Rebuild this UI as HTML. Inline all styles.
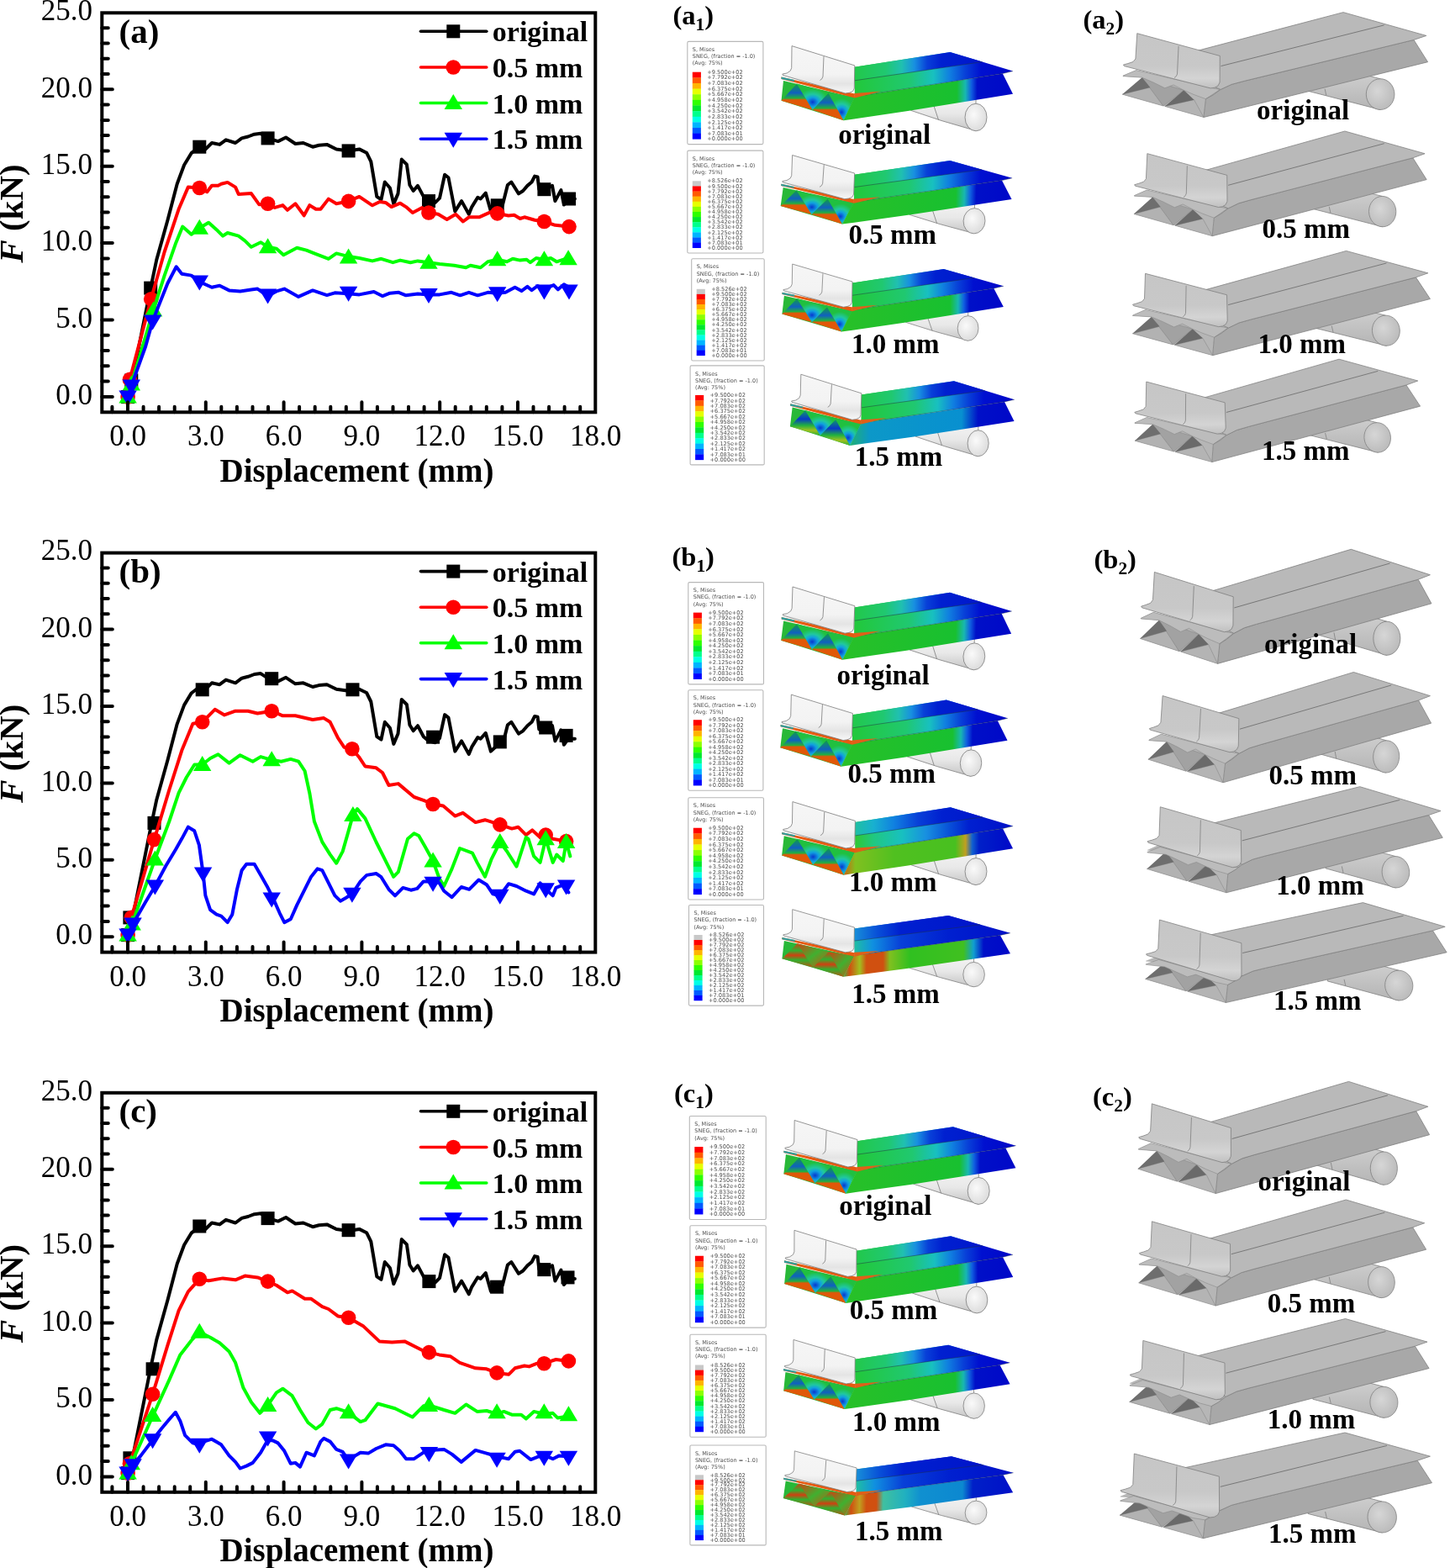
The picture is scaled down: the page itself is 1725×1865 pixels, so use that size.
<!DOCTYPE html>
<html><head><meta charset="utf-8"><title>Figure</title>
<style>html,body{margin:0;padding:0;background:#fff;} svg{display:block;}</style>
</head><body>
<svg width="1725" height="1865" viewBox="0 0 1725 1865">
<rect width="1725" height="1865" fill="#fff"/>

<defs>
 <linearGradient id="gTop" gradientUnits="userSpaceOnUse" x1="1016" y1="0" x2="1205" y2="0">
  <stop offset="0" stop-color="#22c83a"/>
  <stop offset="0.35" stop-color="#20c870"/>
  <stop offset="0.5" stop-color="#18c0c0"/>
  <stop offset="0.6" stop-color="#1080e0"/>
  <stop offset="0.7" stop-color="#0840d8"/>
  <stop offset="0.8" stop-color="#0010d0"/>
  <stop offset="1" stop-color="#0008c8"/>
 </linearGradient>
 <linearGradient id="gFront" gradientUnits="userSpaceOnUse" x1="1003" y1="0" x2="1205" y2="0">
  <stop offset="0" stop-color="#28c028"/>
  <stop offset="0.67" stop-color="#18c030"/>
  <stop offset="0.72" stop-color="#18b8b0"/>
  <stop offset="0.755" stop-color="#1060e0"/>
  <stop offset="0.79" stop-color="#0010c8"/>
  <stop offset="1" stop-color="#0008c8"/>
 </linearGradient>
 <linearGradient id="gTri" x1="0" y1="0" x2="0" y2="1">
  <stop offset="0" stop-color="#10a040"/>
  <stop offset="0.35" stop-color="#1060c0"/>
  <stop offset="0.55" stop-color="#20b040"/>
  <stop offset="0.62" stop-color="#e05808"/>
  <stop offset="1" stop-color="#e05808"/>
 </linearGradient>
 <radialGradient id="gSpot" cx="0.5" cy="0.7" r="0.5">
  <stop offset="0" stop-color="#0838d0"/>
  <stop offset="0.35" stop-color="#10a0e0"/>
  <stop offset="0.6" stop-color="#20c8a0"/>
  <stop offset="1" stop-color="#20c040"/>
 </radialGradient>
 <linearGradient id="gInd" x1="0" y1="0" x2="0" y2="1">
  <stop offset="0" stop-color="#f6f6f6"/>
  <stop offset="0.6" stop-color="#f3f3f3"/>
  <stop offset="0.8" stop-color="#e4e4e4"/>
  <stop offset="1" stop-color="#f8f8f8"/>
 </linearGradient>
 <linearGradient id="gCyl" x1="0" y1="0" x2="0" y2="1">
  <stop offset="0" stop-color="#f4f4f4"/>
  <stop offset="0.5" stop-color="#e8e8e8"/>
  <stop offset="1" stop-color="#c4c4c4"/>
 </linearGradient>
 <radialGradient id="gCap" cx="0.4" cy="0.4" r="0.7">
  <stop offset="0" stop-color="#fafafa"/>
  <stop offset="1" stop-color="#d8d8d8"/>
 </radialGradient>
 <linearGradient id="gIndG" x1="0" y1="0" x2="0" y2="1">
  <stop offset="0" stop-color="#c6c6c6"/>
  <stop offset="0.6" stop-color="#c8c8c8"/>
  <stop offset="0.82" stop-color="#d4d4d4"/>
  <stop offset="1" stop-color="#c0c0c0"/>
 </linearGradient>
 <linearGradient id="gCylG" x1="0" y1="0" x2="0" y2="1">
  <stop offset="0" stop-color="#d8d8d8"/>
  <stop offset="1" stop-color="#b4b4b4"/>
 </linearGradient>
 <radialGradient id="gCapG" cx="0.4" cy="0.4" r="0.7">
  <stop offset="0" stop-color="#d6d6d6"/>
  <stop offset="1" stop-color="#b8b8b8"/>
 </radialGradient>

 <linearGradient id="gTopB" gradientUnits="userSpaceOnUse" x1="1016" y1="0" x2="1205" y2="0">
  <stop offset="0" stop-color="#20c0a0"/>
  <stop offset="0.12" stop-color="#1090e0"/>
  <stop offset="0.3" stop-color="#0840d8"/>
  <stop offset="0.6" stop-color="#0020d0"/>
  <stop offset="1" stop-color="#0010c8"/>
 </linearGradient>
 <linearGradient id="gFrontB" gradientUnits="userSpaceOnUse" x1="1003" y1="0" x2="1205" y2="0">
  <stop offset="0" stop-color="#20b070"/>
  <stop offset="0.12" stop-color="#0c98c8"/>
  <stop offset="0.68" stop-color="#0890d0"/>
  <stop offset="0.78" stop-color="#0010c8"/>
  <stop offset="1" stop-color="#0008c8"/>
 </linearGradient>
 <linearGradient id="gFrontY" gradientUnits="userSpaceOnUse" x1="1003" y1="0" x2="1205" y2="0">
  <stop offset="0" stop-color="#d06010"/>
  <stop offset="0.07" stop-color="#80c020"/>
  <stop offset="0.3" stop-color="#50c020"/>
  <stop offset="0.66" stop-color="#48c020"/>
  <stop offset="0.72" stop-color="#c0a020"/>
  <stop offset="0.76" stop-color="#1060d0"/>
  <stop offset="0.8" stop-color="#0020c8"/>
  <stop offset="1" stop-color="#0008c8"/>
 </linearGradient>
 <linearGradient id="gFrontC" gradientUnits="userSpaceOnUse" x1="1003" y1="0" x2="1205" y2="0">
  <stop offset="0" stop-color="#40b040"/>
  <stop offset="0.04" stop-color="#d05010"/>
  <stop offset="0.1" stop-color="#a0c020"/>
  <stop offset="0.14" stop-color="#d05010"/>
  <stop offset="0.24" stop-color="#d05010"/>
  <stop offset="0.28" stop-color="#80c020"/>
  <stop offset="0.4" stop-color="#30c020"/>
  <stop offset="0.72" stop-color="#40c020"/>
  <stop offset="0.78" stop-color="#10a0d0"/>
  <stop offset="0.84" stop-color="#0010c8"/>
  <stop offset="1" stop-color="#0008c8"/>
 </linearGradient>
 <linearGradient id="gFrontCB" gradientUnits="userSpaceOnUse" x1="1003" y1="0" x2="1205" y2="0">
  <stop offset="0" stop-color="#40b040"/>
  <stop offset="0.04" stop-color="#d05010"/>
  <stop offset="0.09" stop-color="#c0a020"/>
  <stop offset="0.13" stop-color="#d05010"/>
  <stop offset="0.19" stop-color="#d05010"/>
  <stop offset="0.23" stop-color="#40c0a0"/>
  <stop offset="0.36" stop-color="#20b0c0"/>
  <stop offset="0.45" stop-color="#1090d0"/>
  <stop offset="0.7" stop-color="#0c88d0"/>
  <stop offset="0.76" stop-color="#0020c8"/>
  <stop offset="1" stop-color="#0010c8"/>
 </linearGradient>
 <linearGradient id="gTriC" x1="0" y1="0" x2="0" y2="1">
  <stop offset="0" stop-color="#d04010"/>
  <stop offset="0.3" stop-color="#30b030"/>
  <stop offset="0.5" stop-color="#d04010"/>
  <stop offset="0.7" stop-color="#30b030"/>
  <stop offset="1" stop-color="#c05010"/>
 </linearGradient>
 <linearGradient id="gSpotC" x1="0" y1="0" x2="1" y2="1">
  <stop offset="0" stop-color="#d04010"/>
  <stop offset="0.5" stop-color="#40b030"/>
  <stop offset="1" stop-color="#d05010"/>
 </linearGradient>

 <linearGradient id="gTopK" gradientUnits="userSpaceOnUse" x1="1016" y1="0" x2="1205" y2="0">
  <stop offset="0" stop-color="#22c84a"/>
  <stop offset="0.2" stop-color="#20c870"/>
  <stop offset="0.3" stop-color="#20c0b0"/>
  <stop offset="0.38" stop-color="#1890e0"/>
  <stop offset="0.46" stop-color="#0840d8"/>
  <stop offset="0.55" stop-color="#0020d0"/>
  <stop offset="1" stop-color="#0010c8"/>
 </linearGradient>
 <linearGradient id="gTopBK" gradientUnits="userSpaceOnUse" x1="1016" y1="0" x2="1205" y2="0">
  <stop offset="0" stop-color="#1890d8"/>
  <stop offset="0.15" stop-color="#0850d8"/>
  <stop offset="0.3" stop-color="#0020d0"/>
  <stop offset="1" stop-color="#0010c8"/>
 </linearGradient>

 <linearGradient id="gTriB" x1="0" y1="0" x2="0" y2="1">
  <stop offset="0" stop-color="#10a060"/>
  <stop offset="0.35" stop-color="#0838c8"/>
  <stop offset="0.6" stop-color="#20b040"/>
  <stop offset="0.8" stop-color="#a0c020"/>
  <stop offset="1" stop-color="#30b030"/>
 </linearGradient>

 <linearGradient id="gTopY" gradientUnits="userSpaceOnUse" x1="1016" y1="0" x2="1205" y2="0">
  <stop offset="0" stop-color="#30c830"/>
  <stop offset="0.12" stop-color="#20c880"/>
  <stop offset="0.3" stop-color="#18c0c0"/>
  <stop offset="0.45" stop-color="#1890e0"/>
  <stop offset="0.6" stop-color="#0850d8"/>
  <stop offset="0.72" stop-color="#0020d0"/>
  <stop offset="1" stop-color="#0010c8"/>
 </linearGradient>
 <linearGradient id="gTopYK" gradientUnits="userSpaceOnUse" x1="1016" y1="0" x2="1205" y2="0">
  <stop offset="0" stop-color="#20c0a0"/>
  <stop offset="0.12" stop-color="#18b0d0"/>
  <stop offset="0.25" stop-color="#1080e0"/>
  <stop offset="0.4" stop-color="#0840d8"/>
  <stop offset="0.55" stop-color="#0020d0"/>
  <stop offset="1" stop-color="#0010c8"/>
 </linearGradient>
</defs>

<text x="800.5" y="28.6" style="font-family:'Liberation Serif','Times New Roman',serif;font-size:32.5px;font-weight:bold">(a<tspan font-size="21.4" dy="7">1</tspan><tspan dy="-7">)</tspan></text>
<text x="1288.5" y="33.5" style="font-family:'Liberation Serif','Times New Roman',serif;font-size:32.5px;font-weight:bold">(a<tspan font-size="21.4" dy="7">2</tspan><tspan dy="-7">)</tspan></text>
<text x="799.5" y="672.8" style="font-family:'Liberation Serif','Times New Roman',serif;font-size:32.5px;font-weight:bold">(b<tspan font-size="21.4" dy="7">1</tspan><tspan dy="-7">)</tspan></text>
<text x="1301.5" y="676" style="font-family:'Liberation Serif','Times New Roman',serif;font-size:32.5px;font-weight:bold">(b<tspan font-size="21.4" dy="7">2</tspan><tspan dy="-7">)</tspan></text>
<text x="802" y="1310.5" style="font-family:'Liberation Serif','Times New Roman',serif;font-size:32.5px;font-weight:bold">(c<tspan font-size="21.4" dy="7">1</tspan><tspan dy="-7">)</tspan></text>
<text x="1300" y="1315" style="font-family:'Liberation Serif','Times New Roman',serif;font-size:32.5px;font-weight:bold">(c<tspan font-size="21.4" dy="7">2</tspan><tspan dy="-7">)</tspan></text>
<g transform="translate(817.3,48.9)">
<rect x="0.5" y="0.5" width="90.1" height="122.2" rx="1.5" fill="#fff" stroke="#b8b8b8" stroke-width="1.1"/>
<text x="6.5" y="12.2" style="font-family:'DejaVu Sans','Liberation Sans',sans-serif;font-size:6.5px" fill="#505050">S, Mises</text>
<text x="6.5" y="20.4" style="font-family:'DejaVu Sans','Liberation Sans',sans-serif;font-size:6.5px" fill="#505050">SNEG, (fraction = -1.0)</text>
<text x="6.5" y="28.6" style="font-family:'DejaVu Sans','Liberation Sans',sans-serif;font-size:6.5px" fill="#505050">(Avg: 75%)</text>
<rect x="6.5" y="36.80" width="10.1" height="6.93" fill="#ff0000"/>
<rect x="6.5" y="43.43" width="10.1" height="6.93" fill="#ff5a00"/>
<rect x="6.5" y="50.07" width="10.1" height="6.93" fill="#ffb400"/>
<rect x="6.5" y="56.70" width="10.1" height="6.93" fill="#e6ff00"/>
<rect x="6.5" y="63.33" width="10.1" height="6.93" fill="#8cff00"/>
<rect x="6.5" y="69.97" width="10.1" height="6.93" fill="#2eff00"/>
<rect x="6.5" y="76.60" width="10.1" height="6.93" fill="#00e82e"/>
<rect x="6.5" y="83.23" width="10.1" height="6.93" fill="#00ff8c"/>
<rect x="6.5" y="89.87" width="10.1" height="6.93" fill="#00ffe6"/>
<rect x="6.5" y="96.50" width="10.1" height="6.93" fill="#00b4ff"/>
<rect x="6.5" y="103.13" width="10.1" height="6.93" fill="#005aff"/>
<rect x="6.5" y="109.77" width="10.1" height="6.93" fill="#0000ff"/>
<text x="24" y="39.0" style="font-family:'DejaVu Sans','Liberation Sans',sans-serif;font-size:6.6px" fill="#505050">+9.500e+02</text>
<text x="24" y="45.6" style="font-family:'DejaVu Sans','Liberation Sans',sans-serif;font-size:6.6px" fill="#505050">+7.792e+02</text>
<text x="24" y="52.3" style="font-family:'DejaVu Sans','Liberation Sans',sans-serif;font-size:6.6px" fill="#505050">+7.083e+02</text>
<text x="24" y="58.9" style="font-family:'DejaVu Sans','Liberation Sans',sans-serif;font-size:6.6px" fill="#505050">+6.375e+02</text>
<text x="24" y="65.5" style="font-family:'DejaVu Sans','Liberation Sans',sans-serif;font-size:6.6px" fill="#505050">+5.667e+02</text>
<text x="24" y="72.2" style="font-family:'DejaVu Sans','Liberation Sans',sans-serif;font-size:6.6px" fill="#505050">+4.958e+02</text>
<text x="24" y="78.8" style="font-family:'DejaVu Sans','Liberation Sans',sans-serif;font-size:6.6px" fill="#505050">+4.250e+02</text>
<text x="24" y="85.4" style="font-family:'DejaVu Sans','Liberation Sans',sans-serif;font-size:6.6px" fill="#505050">+3.542e+02</text>
<text x="24" y="92.1" style="font-family:'DejaVu Sans','Liberation Sans',sans-serif;font-size:6.6px" fill="#505050">+2.833e+02</text>
<text x="24" y="98.7" style="font-family:'DejaVu Sans','Liberation Sans',sans-serif;font-size:6.6px" fill="#505050">+2.125e+02</text>
<text x="24" y="105.3" style="font-family:'DejaVu Sans','Liberation Sans',sans-serif;font-size:6.6px" fill="#505050">+1.417e+02</text>
<text x="24" y="112.0" style="font-family:'DejaVu Sans','Liberation Sans',sans-serif;font-size:6.6px" fill="#505050">+7.083e+01</text>
<text x="24" y="118.6" style="font-family:'DejaVu Sans','Liberation Sans',sans-serif;font-size:6.6px" fill="#505050">+0.000e+00</text>
</g>
<g transform="translate(817.3,178.6)">
<rect x="0.5" y="0.5" width="90.1" height="121.9" rx="1.5" fill="#fff" stroke="#b8b8b8" stroke-width="1.1"/>
<text x="6.5" y="12.2" style="font-family:'DejaVu Sans','Liberation Sans',sans-serif;font-size:6.5px" fill="#505050">S, Mises</text>
<text x="6.5" y="20.4" style="font-family:'DejaVu Sans','Liberation Sans',sans-serif;font-size:6.5px" fill="#505050">SNEG, (fraction = -1.0)</text>
<text x="6.5" y="28.6" style="font-family:'DejaVu Sans','Liberation Sans',sans-serif;font-size:6.5px" fill="#505050">(Avg: 75%)</text>
<rect x="6.5" y="36.71" width="10.1" height="6.41" fill="#c8c8c8"/>
<rect x="6.5" y="42.82" width="10.1" height="6.41" fill="#ff0000"/>
<rect x="6.5" y="48.93" width="10.1" height="6.41" fill="#ff5a00"/>
<rect x="6.5" y="55.03" width="10.1" height="6.41" fill="#ffb400"/>
<rect x="6.5" y="61.14" width="10.1" height="6.41" fill="#e6ff00"/>
<rect x="6.5" y="67.25" width="10.1" height="6.41" fill="#8cff00"/>
<rect x="6.5" y="73.36" width="10.1" height="6.41" fill="#2eff00"/>
<rect x="6.5" y="79.47" width="10.1" height="6.41" fill="#00e82e"/>
<rect x="6.5" y="85.58" width="10.1" height="6.41" fill="#00ff8c"/>
<rect x="6.5" y="91.68" width="10.1" height="6.41" fill="#00ffe6"/>
<rect x="6.5" y="97.79" width="10.1" height="6.41" fill="#00b4ff"/>
<rect x="6.5" y="103.90" width="10.1" height="6.41" fill="#005aff"/>
<rect x="6.5" y="110.01" width="10.1" height="6.41" fill="#0000ff"/>
<text x="24" y="38.9" style="font-family:'DejaVu Sans','Liberation Sans',sans-serif;font-size:6.6px" fill="#505050">+8.526e+02</text>
<text x="24" y="45.0" style="font-family:'DejaVu Sans','Liberation Sans',sans-serif;font-size:6.6px" fill="#505050">+9.500e+02</text>
<text x="24" y="51.1" style="font-family:'DejaVu Sans','Liberation Sans',sans-serif;font-size:6.6px" fill="#505050">+7.792e+02</text>
<text x="24" y="57.2" style="font-family:'DejaVu Sans','Liberation Sans',sans-serif;font-size:6.6px" fill="#505050">+7.083e+02</text>
<text x="24" y="63.3" style="font-family:'DejaVu Sans','Liberation Sans',sans-serif;font-size:6.6px" fill="#505050">+6.375e+02</text>
<text x="24" y="69.5" style="font-family:'DejaVu Sans','Liberation Sans',sans-serif;font-size:6.6px" fill="#505050">+5.667e+02</text>
<text x="24" y="75.6" style="font-family:'DejaVu Sans','Liberation Sans',sans-serif;font-size:6.6px" fill="#505050">+4.958e+02</text>
<text x="24" y="81.7" style="font-family:'DejaVu Sans','Liberation Sans',sans-serif;font-size:6.6px" fill="#505050">+4.250e+02</text>
<text x="24" y="87.8" style="font-family:'DejaVu Sans','Liberation Sans',sans-serif;font-size:6.6px" fill="#505050">+3.542e+02</text>
<text x="24" y="93.9" style="font-family:'DejaVu Sans','Liberation Sans',sans-serif;font-size:6.6px" fill="#505050">+2.833e+02</text>
<text x="24" y="100.0" style="font-family:'DejaVu Sans','Liberation Sans',sans-serif;font-size:6.6px" fill="#505050">+2.125e+02</text>
<text x="24" y="106.1" style="font-family:'DejaVu Sans','Liberation Sans',sans-serif;font-size:6.6px" fill="#505050">+1.417e+02</text>
<text x="24" y="112.2" style="font-family:'DejaVu Sans','Liberation Sans',sans-serif;font-size:6.6px" fill="#505050">+7.083e+01</text>
<text x="24" y="118.3" style="font-family:'DejaVu Sans','Liberation Sans',sans-serif;font-size:6.6px" fill="#505050">+0.000e+00</text>
</g>
<g transform="translate(822.2,307.3)">
<rect x="0.5" y="0.5" width="86.5" height="121.2" rx="1.5" fill="#fff" stroke="#b8b8b8" stroke-width="1.1"/>
<text x="6.5" y="12.2" style="font-family:'DejaVu Sans','Liberation Sans',sans-serif;font-size:6.5px" fill="#505050">S, Mises</text>
<text x="6.5" y="20.4" style="font-family:'DejaVu Sans','Liberation Sans',sans-serif;font-size:6.5px" fill="#505050">SNEG, (fraction = -1.0)</text>
<text x="6.5" y="28.6" style="font-family:'DejaVu Sans','Liberation Sans',sans-serif;font-size:6.5px" fill="#505050">(Avg: 75%)</text>
<rect x="6.5" y="36.50" width="10.1" height="6.37" fill="#c8c8c8"/>
<rect x="6.5" y="42.57" width="10.1" height="6.37" fill="#ff0000"/>
<rect x="6.5" y="48.65" width="10.1" height="6.37" fill="#ff5a00"/>
<rect x="6.5" y="54.72" width="10.1" height="6.37" fill="#ffb400"/>
<rect x="6.5" y="60.79" width="10.1" height="6.37" fill="#e6ff00"/>
<rect x="6.5" y="66.87" width="10.1" height="6.37" fill="#8cff00"/>
<rect x="6.5" y="72.94" width="10.1" height="6.37" fill="#2eff00"/>
<rect x="6.5" y="79.01" width="10.1" height="6.37" fill="#00e82e"/>
<rect x="6.5" y="85.09" width="10.1" height="6.37" fill="#00ff8c"/>
<rect x="6.5" y="91.16" width="10.1" height="6.37" fill="#00ffe6"/>
<rect x="6.5" y="97.24" width="10.1" height="6.37" fill="#00b4ff"/>
<rect x="6.5" y="103.31" width="10.1" height="6.37" fill="#005aff"/>
<rect x="6.5" y="109.38" width="10.1" height="6.37" fill="#0000ff"/>
<text x="24" y="38.7" style="font-family:'DejaVu Sans','Liberation Sans',sans-serif;font-size:6.6px" fill="#505050">+8.526e+02</text>
<text x="24" y="44.8" style="font-family:'DejaVu Sans','Liberation Sans',sans-serif;font-size:6.6px" fill="#505050">+9.500e+02</text>
<text x="24" y="50.8" style="font-family:'DejaVu Sans','Liberation Sans',sans-serif;font-size:6.6px" fill="#505050">+7.792e+02</text>
<text x="24" y="56.9" style="font-family:'DejaVu Sans','Liberation Sans',sans-serif;font-size:6.6px" fill="#505050">+7.083e+02</text>
<text x="24" y="63.0" style="font-family:'DejaVu Sans','Liberation Sans',sans-serif;font-size:6.6px" fill="#505050">+6.375e+02</text>
<text x="24" y="69.1" style="font-family:'DejaVu Sans','Liberation Sans',sans-serif;font-size:6.6px" fill="#505050">+5.667e+02</text>
<text x="24" y="75.1" style="font-family:'DejaVu Sans','Liberation Sans',sans-serif;font-size:6.6px" fill="#505050">+4.958e+02</text>
<text x="24" y="81.2" style="font-family:'DejaVu Sans','Liberation Sans',sans-serif;font-size:6.6px" fill="#505050">+4.250e+02</text>
<text x="24" y="87.3" style="font-family:'DejaVu Sans','Liberation Sans',sans-serif;font-size:6.6px" fill="#505050">+3.542e+02</text>
<text x="24" y="93.4" style="font-family:'DejaVu Sans','Liberation Sans',sans-serif;font-size:6.6px" fill="#505050">+2.833e+02</text>
<text x="24" y="99.4" style="font-family:'DejaVu Sans','Liberation Sans',sans-serif;font-size:6.6px" fill="#505050">+2.125e+02</text>
<text x="24" y="105.5" style="font-family:'DejaVu Sans','Liberation Sans',sans-serif;font-size:6.6px" fill="#505050">+1.417e+02</text>
<text x="24" y="111.6" style="font-family:'DejaVu Sans','Liberation Sans',sans-serif;font-size:6.6px" fill="#505050">+7.083e+01</text>
<text x="24" y="117.7" style="font-family:'DejaVu Sans','Liberation Sans',sans-serif;font-size:6.6px" fill="#505050">+0.000e+00</text>
</g>
<g transform="translate(820.6,434.4)">
<rect x="0.5" y="0.5" width="88.1" height="118.0" rx="1.5" fill="#fff" stroke="#b8b8b8" stroke-width="1.1"/>
<text x="6.5" y="12.2" style="font-family:'DejaVu Sans','Liberation Sans',sans-serif;font-size:6.5px" fill="#505050">S, Mises</text>
<text x="6.5" y="20.4" style="font-family:'DejaVu Sans','Liberation Sans',sans-serif;font-size:6.5px" fill="#505050">SNEG, (fraction = -1.0)</text>
<text x="6.5" y="28.6" style="font-family:'DejaVu Sans','Liberation Sans',sans-serif;font-size:6.5px" fill="#505050">(Avg: 75%)</text>
<rect x="6.5" y="35.55" width="10.1" height="6.71" fill="#ff0000"/>
<rect x="6.5" y="41.95" width="10.1" height="6.71" fill="#ff5a00"/>
<rect x="6.5" y="48.36" width="10.1" height="6.71" fill="#ffb400"/>
<rect x="6.5" y="54.77" width="10.1" height="6.71" fill="#e6ff00"/>
<rect x="6.5" y="61.17" width="10.1" height="6.71" fill="#8cff00"/>
<rect x="6.5" y="67.58" width="10.1" height="6.71" fill="#2eff00"/>
<rect x="6.5" y="73.99" width="10.1" height="6.71" fill="#00e82e"/>
<rect x="6.5" y="80.40" width="10.1" height="6.71" fill="#00ff8c"/>
<rect x="6.5" y="86.80" width="10.1" height="6.71" fill="#00ffe6"/>
<rect x="6.5" y="93.21" width="10.1" height="6.71" fill="#00b4ff"/>
<rect x="6.5" y="99.62" width="10.1" height="6.71" fill="#005aff"/>
<rect x="6.5" y="106.02" width="10.1" height="6.71" fill="#0000ff"/>
<text x="24" y="37.7" style="font-family:'DejaVu Sans','Liberation Sans',sans-serif;font-size:6.6px" fill="#505050">+9.500e+02</text>
<text x="24" y="44.2" style="font-family:'DejaVu Sans','Liberation Sans',sans-serif;font-size:6.6px" fill="#505050">+7.792e+02</text>
<text x="24" y="50.6" style="font-family:'DejaVu Sans','Liberation Sans',sans-serif;font-size:6.6px" fill="#505050">+7.083e+02</text>
<text x="24" y="57.0" style="font-family:'DejaVu Sans','Liberation Sans',sans-serif;font-size:6.6px" fill="#505050">+6.375e+02</text>
<text x="24" y="63.4" style="font-family:'DejaVu Sans','Liberation Sans',sans-serif;font-size:6.6px" fill="#505050">+5.667e+02</text>
<text x="24" y="69.8" style="font-family:'DejaVu Sans','Liberation Sans',sans-serif;font-size:6.6px" fill="#505050">+4.958e+02</text>
<text x="24" y="76.2" style="font-family:'DejaVu Sans','Liberation Sans',sans-serif;font-size:6.6px" fill="#505050">+4.250e+02</text>
<text x="24" y="82.6" style="font-family:'DejaVu Sans','Liberation Sans',sans-serif;font-size:6.6px" fill="#505050">+3.542e+02</text>
<text x="24" y="89.0" style="font-family:'DejaVu Sans','Liberation Sans',sans-serif;font-size:6.6px" fill="#505050">+2.833e+02</text>
<text x="24" y="95.4" style="font-family:'DejaVu Sans','Liberation Sans',sans-serif;font-size:6.6px" fill="#505050">+2.125e+02</text>
<text x="24" y="101.8" style="font-family:'DejaVu Sans','Liberation Sans',sans-serif;font-size:6.6px" fill="#505050">+1.417e+02</text>
<text x="24" y="108.2" style="font-family:'DejaVu Sans','Liberation Sans',sans-serif;font-size:6.6px" fill="#505050">+7.083e+01</text>
<text x="24" y="114.6" style="font-family:'DejaVu Sans','Liberation Sans',sans-serif;font-size:6.6px" fill="#505050">+0.000e+00</text>
</g>
<g transform="translate(818.3,692.1)">
<rect x="0.5" y="0.5" width="89.7" height="121.3" rx="1.5" fill="#fff" stroke="#b8b8b8" stroke-width="1.1"/>
<text x="6.5" y="12.2" style="font-family:'DejaVu Sans','Liberation Sans',sans-serif;font-size:6.5px" fill="#505050">S, Mises</text>
<text x="6.5" y="20.4" style="font-family:'DejaVu Sans','Liberation Sans',sans-serif;font-size:6.5px" fill="#505050">SNEG, (fraction = -1.0)</text>
<text x="6.5" y="28.6" style="font-family:'DejaVu Sans','Liberation Sans',sans-serif;font-size:6.5px" fill="#505050">(Avg: 75%)</text>
<rect x="6.5" y="36.53" width="10.1" height="6.88" fill="#ff0000"/>
<rect x="6.5" y="43.12" width="10.1" height="6.88" fill="#ff5a00"/>
<rect x="6.5" y="49.70" width="10.1" height="6.88" fill="#ffb400"/>
<rect x="6.5" y="56.29" width="10.1" height="6.88" fill="#e6ff00"/>
<rect x="6.5" y="62.87" width="10.1" height="6.88" fill="#8cff00"/>
<rect x="6.5" y="69.46" width="10.1" height="6.88" fill="#2eff00"/>
<rect x="6.5" y="76.04" width="10.1" height="6.88" fill="#00e82e"/>
<rect x="6.5" y="82.63" width="10.1" height="6.88" fill="#00ff8c"/>
<rect x="6.5" y="89.21" width="10.1" height="6.88" fill="#00ffe6"/>
<rect x="6.5" y="95.80" width="10.1" height="6.88" fill="#00b4ff"/>
<rect x="6.5" y="102.38" width="10.1" height="6.88" fill="#005aff"/>
<rect x="6.5" y="108.96" width="10.1" height="6.88" fill="#0000ff"/>
<text x="24" y="38.7" style="font-family:'DejaVu Sans','Liberation Sans',sans-serif;font-size:6.6px" fill="#505050">+9.500e+02</text>
<text x="24" y="45.3" style="font-family:'DejaVu Sans','Liberation Sans',sans-serif;font-size:6.6px" fill="#505050">+7.792e+02</text>
<text x="24" y="51.9" style="font-family:'DejaVu Sans','Liberation Sans',sans-serif;font-size:6.6px" fill="#505050">+7.083e+02</text>
<text x="24" y="58.5" style="font-family:'DejaVu Sans','Liberation Sans',sans-serif;font-size:6.6px" fill="#505050">+6.375e+02</text>
<text x="24" y="65.1" style="font-family:'DejaVu Sans','Liberation Sans',sans-serif;font-size:6.6px" fill="#505050">+5.667e+02</text>
<text x="24" y="71.7" style="font-family:'DejaVu Sans','Liberation Sans',sans-serif;font-size:6.6px" fill="#505050">+4.958e+02</text>
<text x="24" y="78.2" style="font-family:'DejaVu Sans','Liberation Sans',sans-serif;font-size:6.6px" fill="#505050">+4.250e+02</text>
<text x="24" y="84.8" style="font-family:'DejaVu Sans','Liberation Sans',sans-serif;font-size:6.6px" fill="#505050">+3.542e+02</text>
<text x="24" y="91.4" style="font-family:'DejaVu Sans','Liberation Sans',sans-serif;font-size:6.6px" fill="#505050">+2.833e+02</text>
<text x="24" y="98.0" style="font-family:'DejaVu Sans','Liberation Sans',sans-serif;font-size:6.6px" fill="#505050">+2.125e+02</text>
<text x="24" y="104.6" style="font-family:'DejaVu Sans','Liberation Sans',sans-serif;font-size:6.6px" fill="#505050">+1.417e+02</text>
<text x="24" y="111.2" style="font-family:'DejaVu Sans','Liberation Sans',sans-serif;font-size:6.6px" fill="#505050">+7.083e+01</text>
<text x="24" y="117.7" style="font-family:'DejaVu Sans','Liberation Sans',sans-serif;font-size:6.6px" fill="#505050">+0.000e+00</text>
</g>
<g transform="translate(818.3,820.2)">
<rect x="0.5" y="0.5" width="89.1" height="119.6" rx="1.5" fill="#fff" stroke="#b8b8b8" stroke-width="1.1"/>
<text x="6.5" y="12.2" style="font-family:'DejaVu Sans','Liberation Sans',sans-serif;font-size:6.5px" fill="#505050">S, Mises</text>
<text x="6.5" y="20.4" style="font-family:'DejaVu Sans','Liberation Sans',sans-serif;font-size:6.5px" fill="#505050">SNEG, (fraction = -1.0)</text>
<text x="6.5" y="28.6" style="font-family:'DejaVu Sans','Liberation Sans',sans-serif;font-size:6.5px" fill="#505050">(Avg: 75%)</text>
<rect x="6.5" y="36.02" width="10.1" height="6.79" fill="#ff0000"/>
<rect x="6.5" y="42.52" width="10.1" height="6.79" fill="#ff5a00"/>
<rect x="6.5" y="49.01" width="10.1" height="6.79" fill="#ffb400"/>
<rect x="6.5" y="55.50" width="10.1" height="6.79" fill="#e6ff00"/>
<rect x="6.5" y="62.00" width="10.1" height="6.79" fill="#8cff00"/>
<rect x="6.5" y="68.49" width="10.1" height="6.79" fill="#2eff00"/>
<rect x="6.5" y="74.98" width="10.1" height="6.79" fill="#00e82e"/>
<rect x="6.5" y="81.48" width="10.1" height="6.79" fill="#00ff8c"/>
<rect x="6.5" y="87.97" width="10.1" height="6.79" fill="#00ffe6"/>
<rect x="6.5" y="94.46" width="10.1" height="6.79" fill="#00b4ff"/>
<rect x="6.5" y="100.96" width="10.1" height="6.79" fill="#005aff"/>
<rect x="6.5" y="107.45" width="10.1" height="6.79" fill="#0000ff"/>
<text x="24" y="38.2" style="font-family:'DejaVu Sans','Liberation Sans',sans-serif;font-size:6.6px" fill="#505050">+9.500e+02</text>
<text x="24" y="44.7" style="font-family:'DejaVu Sans','Liberation Sans',sans-serif;font-size:6.6px" fill="#505050">+7.792e+02</text>
<text x="24" y="51.2" style="font-family:'DejaVu Sans','Liberation Sans',sans-serif;font-size:6.6px" fill="#505050">+7.083e+02</text>
<text x="24" y="57.7" style="font-family:'DejaVu Sans','Liberation Sans',sans-serif;font-size:6.6px" fill="#505050">+6.375e+02</text>
<text x="24" y="64.2" style="font-family:'DejaVu Sans','Liberation Sans',sans-serif;font-size:6.6px" fill="#505050">+5.667e+02</text>
<text x="24" y="70.7" style="font-family:'DejaVu Sans','Liberation Sans',sans-serif;font-size:6.6px" fill="#505050">+4.958e+02</text>
<text x="24" y="77.2" style="font-family:'DejaVu Sans','Liberation Sans',sans-serif;font-size:6.6px" fill="#505050">+4.250e+02</text>
<text x="24" y="83.7" style="font-family:'DejaVu Sans','Liberation Sans',sans-serif;font-size:6.6px" fill="#505050">+3.542e+02</text>
<text x="24" y="90.2" style="font-family:'DejaVu Sans','Liberation Sans',sans-serif;font-size:6.6px" fill="#505050">+2.833e+02</text>
<text x="24" y="96.7" style="font-family:'DejaVu Sans','Liberation Sans',sans-serif;font-size:6.6px" fill="#505050">+2.125e+02</text>
<text x="24" y="103.2" style="font-family:'DejaVu Sans','Liberation Sans',sans-serif;font-size:6.6px" fill="#505050">+1.417e+02</text>
<text x="24" y="109.7" style="font-family:'DejaVu Sans','Liberation Sans',sans-serif;font-size:6.6px" fill="#505050">+7.083e+01</text>
<text x="24" y="116.1" style="font-family:'DejaVu Sans','Liberation Sans',sans-serif;font-size:6.6px" fill="#505050">+0.000e+00</text>
</g>
<g transform="translate(818.3,948.2)">
<rect x="0.5" y="0.5" width="89.7" height="121.3" rx="1.5" fill="#fff" stroke="#b8b8b8" stroke-width="1.1"/>
<text x="6.5" y="12.2" style="font-family:'DejaVu Sans','Liberation Sans',sans-serif;font-size:6.5px" fill="#505050">S, Mises</text>
<text x="6.5" y="20.4" style="font-family:'DejaVu Sans','Liberation Sans',sans-serif;font-size:6.5px" fill="#505050">SNEG, (fraction = -1.0)</text>
<text x="6.5" y="28.6" style="font-family:'DejaVu Sans','Liberation Sans',sans-serif;font-size:6.5px" fill="#505050">(Avg: 75%)</text>
<rect x="6.5" y="36.53" width="10.1" height="6.88" fill="#ff0000"/>
<rect x="6.5" y="43.12" width="10.1" height="6.88" fill="#ff5a00"/>
<rect x="6.5" y="49.70" width="10.1" height="6.88" fill="#ffb400"/>
<rect x="6.5" y="56.29" width="10.1" height="6.88" fill="#e6ff00"/>
<rect x="6.5" y="62.87" width="10.1" height="6.88" fill="#8cff00"/>
<rect x="6.5" y="69.46" width="10.1" height="6.88" fill="#2eff00"/>
<rect x="6.5" y="76.04" width="10.1" height="6.88" fill="#00e82e"/>
<rect x="6.5" y="82.63" width="10.1" height="6.88" fill="#00ff8c"/>
<rect x="6.5" y="89.21" width="10.1" height="6.88" fill="#00ffe6"/>
<rect x="6.5" y="95.80" width="10.1" height="6.88" fill="#00b4ff"/>
<rect x="6.5" y="102.38" width="10.1" height="6.88" fill="#005aff"/>
<rect x="6.5" y="108.96" width="10.1" height="6.88" fill="#0000ff"/>
<text x="24" y="38.7" style="font-family:'DejaVu Sans','Liberation Sans',sans-serif;font-size:6.6px" fill="#505050">+9.500e+02</text>
<text x="24" y="45.3" style="font-family:'DejaVu Sans','Liberation Sans',sans-serif;font-size:6.6px" fill="#505050">+7.792e+02</text>
<text x="24" y="51.9" style="font-family:'DejaVu Sans','Liberation Sans',sans-serif;font-size:6.6px" fill="#505050">+7.083e+02</text>
<text x="24" y="58.5" style="font-family:'DejaVu Sans','Liberation Sans',sans-serif;font-size:6.6px" fill="#505050">+6.375e+02</text>
<text x="24" y="65.1" style="font-family:'DejaVu Sans','Liberation Sans',sans-serif;font-size:6.6px" fill="#505050">+5.667e+02</text>
<text x="24" y="71.7" style="font-family:'DejaVu Sans','Liberation Sans',sans-serif;font-size:6.6px" fill="#505050">+4.958e+02</text>
<text x="24" y="78.2" style="font-family:'DejaVu Sans','Liberation Sans',sans-serif;font-size:6.6px" fill="#505050">+4.250e+02</text>
<text x="24" y="84.8" style="font-family:'DejaVu Sans','Liberation Sans',sans-serif;font-size:6.6px" fill="#505050">+3.542e+02</text>
<text x="24" y="91.4" style="font-family:'DejaVu Sans','Liberation Sans',sans-serif;font-size:6.6px" fill="#505050">+2.833e+02</text>
<text x="24" y="98.0" style="font-family:'DejaVu Sans','Liberation Sans',sans-serif;font-size:6.6px" fill="#505050">+2.125e+02</text>
<text x="24" y="104.6" style="font-family:'DejaVu Sans','Liberation Sans',sans-serif;font-size:6.6px" fill="#505050">+1.417e+02</text>
<text x="24" y="111.2" style="font-family:'DejaVu Sans','Liberation Sans',sans-serif;font-size:6.6px" fill="#505050">+7.083e+01</text>
<text x="24" y="117.7" style="font-family:'DejaVu Sans','Liberation Sans',sans-serif;font-size:6.6px" fill="#505050">+0.000e+00</text>
</g>
<g transform="translate(819.0,1076.0)">
<rect x="0.5" y="0.5" width="89.0" height="119.6" rx="1.5" fill="#fff" stroke="#b8b8b8" stroke-width="1.1"/>
<text x="6.5" y="12.2" style="font-family:'DejaVu Sans','Liberation Sans',sans-serif;font-size:6.5px" fill="#505050">S, Mises</text>
<text x="6.5" y="20.4" style="font-family:'DejaVu Sans','Liberation Sans',sans-serif;font-size:6.5px" fill="#505050">SNEG, (fraction = -1.0)</text>
<text x="6.5" y="28.6" style="font-family:'DejaVu Sans','Liberation Sans',sans-serif;font-size:6.5px" fill="#505050">(Avg: 75%)</text>
<rect x="6.5" y="36.02" width="10.1" height="6.29" fill="#c8c8c8"/>
<rect x="6.5" y="42.02" width="10.1" height="6.29" fill="#ff0000"/>
<rect x="6.5" y="48.01" width="10.1" height="6.29" fill="#ff5a00"/>
<rect x="6.5" y="54.00" width="10.1" height="6.29" fill="#ffb400"/>
<rect x="6.5" y="60.00" width="10.1" height="6.29" fill="#e6ff00"/>
<rect x="6.5" y="65.99" width="10.1" height="6.29" fill="#8cff00"/>
<rect x="6.5" y="71.99" width="10.1" height="6.29" fill="#2eff00"/>
<rect x="6.5" y="77.98" width="10.1" height="6.29" fill="#00e82e"/>
<rect x="6.5" y="83.97" width="10.1" height="6.29" fill="#00ff8c"/>
<rect x="6.5" y="89.97" width="10.1" height="6.29" fill="#00ffe6"/>
<rect x="6.5" y="95.96" width="10.1" height="6.29" fill="#00b4ff"/>
<rect x="6.5" y="101.96" width="10.1" height="6.29" fill="#005aff"/>
<rect x="6.5" y="107.95" width="10.1" height="6.29" fill="#0000ff"/>
<text x="24" y="38.2" style="font-family:'DejaVu Sans','Liberation Sans',sans-serif;font-size:6.6px" fill="#505050">+8.526e+02</text>
<text x="24" y="44.2" style="font-family:'DejaVu Sans','Liberation Sans',sans-serif;font-size:6.6px" fill="#505050">+9.500e+02</text>
<text x="24" y="50.2" style="font-family:'DejaVu Sans','Liberation Sans',sans-serif;font-size:6.6px" fill="#505050">+7.792e+02</text>
<text x="24" y="56.2" style="font-family:'DejaVu Sans','Liberation Sans',sans-serif;font-size:6.6px" fill="#505050">+7.083e+02</text>
<text x="24" y="62.2" style="font-family:'DejaVu Sans','Liberation Sans',sans-serif;font-size:6.6px" fill="#505050">+6.375e+02</text>
<text x="24" y="68.2" style="font-family:'DejaVu Sans','Liberation Sans',sans-serif;font-size:6.6px" fill="#505050">+5.667e+02</text>
<text x="24" y="74.2" style="font-family:'DejaVu Sans','Liberation Sans',sans-serif;font-size:6.6px" fill="#505050">+4.958e+02</text>
<text x="24" y="80.2" style="font-family:'DejaVu Sans','Liberation Sans',sans-serif;font-size:6.6px" fill="#505050">+4.250e+02</text>
<text x="24" y="86.2" style="font-family:'DejaVu Sans','Liberation Sans',sans-serif;font-size:6.6px" fill="#505050">+3.542e+02</text>
<text x="24" y="92.2" style="font-family:'DejaVu Sans','Liberation Sans',sans-serif;font-size:6.6px" fill="#505050">+2.833e+02</text>
<text x="24" y="98.2" style="font-family:'DejaVu Sans','Liberation Sans',sans-serif;font-size:6.6px" fill="#505050">+2.125e+02</text>
<text x="24" y="104.2" style="font-family:'DejaVu Sans','Liberation Sans',sans-serif;font-size:6.6px" fill="#505050">+1.417e+02</text>
<text x="24" y="110.1" style="font-family:'DejaVu Sans','Liberation Sans',sans-serif;font-size:6.6px" fill="#505050">+7.083e+01</text>
<text x="24" y="116.1" style="font-family:'DejaVu Sans','Liberation Sans',sans-serif;font-size:6.6px" fill="#505050">+0.000e+00</text>
</g>
<g transform="translate(819.8,1327.0)">
<rect x="0.5" y="0.5" width="90.9" height="123.0" rx="1.5" fill="#fff" stroke="#b8b8b8" stroke-width="1.1"/>
<text x="6.5" y="12.2" style="font-family:'DejaVu Sans','Liberation Sans',sans-serif;font-size:6.5px" fill="#505050">S, Mises</text>
<text x="6.5" y="20.4" style="font-family:'DejaVu Sans','Liberation Sans',sans-serif;font-size:6.5px" fill="#505050">SNEG, (fraction = -1.0)</text>
<text x="6.5" y="28.6" style="font-family:'DejaVu Sans','Liberation Sans',sans-serif;font-size:6.5px" fill="#505050">(Avg: 75%)</text>
<rect x="6.5" y="37.04" width="10.1" height="6.98" fill="#ff0000"/>
<rect x="6.5" y="43.72" width="10.1" height="6.98" fill="#ff5a00"/>
<rect x="6.5" y="50.39" width="10.1" height="6.98" fill="#ffb400"/>
<rect x="6.5" y="57.07" width="10.1" height="6.98" fill="#e6ff00"/>
<rect x="6.5" y="63.74" width="10.1" height="6.98" fill="#8cff00"/>
<rect x="6.5" y="70.42" width="10.1" height="6.98" fill="#2eff00"/>
<rect x="6.5" y="77.10" width="10.1" height="6.98" fill="#00e82e"/>
<rect x="6.5" y="83.77" width="10.1" height="6.98" fill="#00ff8c"/>
<rect x="6.5" y="90.45" width="10.1" height="6.98" fill="#00ffe6"/>
<rect x="6.5" y="97.13" width="10.1" height="6.98" fill="#00b4ff"/>
<rect x="6.5" y="103.80" width="10.1" height="6.98" fill="#005aff"/>
<rect x="6.5" y="110.48" width="10.1" height="6.98" fill="#0000ff"/>
<text x="24" y="39.2" style="font-family:'DejaVu Sans','Liberation Sans',sans-serif;font-size:6.6px" fill="#505050">+9.500e+02</text>
<text x="24" y="45.9" style="font-family:'DejaVu Sans','Liberation Sans',sans-serif;font-size:6.6px" fill="#505050">+7.792e+02</text>
<text x="24" y="52.6" style="font-family:'DejaVu Sans','Liberation Sans',sans-serif;font-size:6.6px" fill="#505050">+7.083e+02</text>
<text x="24" y="59.3" style="font-family:'DejaVu Sans','Liberation Sans',sans-serif;font-size:6.6px" fill="#505050">+6.375e+02</text>
<text x="24" y="65.9" style="font-family:'DejaVu Sans','Liberation Sans',sans-serif;font-size:6.6px" fill="#505050">+5.667e+02</text>
<text x="24" y="72.6" style="font-family:'DejaVu Sans','Liberation Sans',sans-serif;font-size:6.6px" fill="#505050">+4.958e+02</text>
<text x="24" y="79.3" style="font-family:'DejaVu Sans','Liberation Sans',sans-serif;font-size:6.6px" fill="#505050">+4.250e+02</text>
<text x="24" y="86.0" style="font-family:'DejaVu Sans','Liberation Sans',sans-serif;font-size:6.6px" fill="#505050">+3.542e+02</text>
<text x="24" y="92.7" style="font-family:'DejaVu Sans','Liberation Sans',sans-serif;font-size:6.6px" fill="#505050">+2.833e+02</text>
<text x="24" y="99.3" style="font-family:'DejaVu Sans','Liberation Sans',sans-serif;font-size:6.6px" fill="#505050">+2.125e+02</text>
<text x="24" y="106.0" style="font-family:'DejaVu Sans','Liberation Sans',sans-serif;font-size:6.6px" fill="#505050">+1.417e+02</text>
<text x="24" y="112.7" style="font-family:'DejaVu Sans','Liberation Sans',sans-serif;font-size:6.6px" fill="#505050">+7.083e+01</text>
<text x="24" y="119.4" style="font-family:'DejaVu Sans','Liberation Sans',sans-serif;font-size:6.6px" fill="#505050">+0.000e+00</text>
</g>
<g transform="translate(820.4,1457.2)">
<rect x="0.5" y="0.5" width="90.3" height="121.4" rx="1.5" fill="#fff" stroke="#b8b8b8" stroke-width="1.1"/>
<text x="6.5" y="12.2" style="font-family:'DejaVu Sans','Liberation Sans',sans-serif;font-size:6.5px" fill="#505050">S, Mises</text>
<text x="6.5" y="20.4" style="font-family:'DejaVu Sans','Liberation Sans',sans-serif;font-size:6.5px" fill="#505050">SNEG, (fraction = -1.0)</text>
<text x="6.5" y="28.6" style="font-family:'DejaVu Sans','Liberation Sans',sans-serif;font-size:6.5px" fill="#505050">(Avg: 75%)</text>
<rect x="6.5" y="36.56" width="10.1" height="6.89" fill="#ff0000"/>
<rect x="6.5" y="43.15" width="10.1" height="6.89" fill="#ff5a00"/>
<rect x="6.5" y="49.74" width="10.1" height="6.89" fill="#ffb400"/>
<rect x="6.5" y="56.33" width="10.1" height="6.89" fill="#e6ff00"/>
<rect x="6.5" y="62.92" width="10.1" height="6.89" fill="#8cff00"/>
<rect x="6.5" y="69.51" width="10.1" height="6.89" fill="#2eff00"/>
<rect x="6.5" y="76.10" width="10.1" height="6.89" fill="#00e82e"/>
<rect x="6.5" y="82.69" width="10.1" height="6.89" fill="#00ff8c"/>
<rect x="6.5" y="89.28" width="10.1" height="6.89" fill="#00ffe6"/>
<rect x="6.5" y="95.87" width="10.1" height="6.89" fill="#00b4ff"/>
<rect x="6.5" y="102.46" width="10.1" height="6.89" fill="#005aff"/>
<rect x="6.5" y="109.05" width="10.1" height="6.89" fill="#0000ff"/>
<text x="24" y="38.8" style="font-family:'DejaVu Sans','Liberation Sans',sans-serif;font-size:6.6px" fill="#505050">+9.500e+02</text>
<text x="24" y="45.4" style="font-family:'DejaVu Sans','Liberation Sans',sans-serif;font-size:6.6px" fill="#505050">+7.792e+02</text>
<text x="24" y="51.9" style="font-family:'DejaVu Sans','Liberation Sans',sans-serif;font-size:6.6px" fill="#505050">+7.083e+02</text>
<text x="24" y="58.5" style="font-family:'DejaVu Sans','Liberation Sans',sans-serif;font-size:6.6px" fill="#505050">+6.375e+02</text>
<text x="24" y="65.1" style="font-family:'DejaVu Sans','Liberation Sans',sans-serif;font-size:6.6px" fill="#505050">+5.667e+02</text>
<text x="24" y="71.7" style="font-family:'DejaVu Sans','Liberation Sans',sans-serif;font-size:6.6px" fill="#505050">+4.958e+02</text>
<text x="24" y="78.3" style="font-family:'DejaVu Sans','Liberation Sans',sans-serif;font-size:6.6px" fill="#505050">+4.250e+02</text>
<text x="24" y="84.9" style="font-family:'DejaVu Sans','Liberation Sans',sans-serif;font-size:6.6px" fill="#505050">+3.542e+02</text>
<text x="24" y="91.5" style="font-family:'DejaVu Sans','Liberation Sans',sans-serif;font-size:6.6px" fill="#505050">+2.833e+02</text>
<text x="24" y="98.1" style="font-family:'DejaVu Sans','Liberation Sans',sans-serif;font-size:6.6px" fill="#505050">+2.125e+02</text>
<text x="24" y="104.7" style="font-family:'DejaVu Sans','Liberation Sans',sans-serif;font-size:6.6px" fill="#505050">+1.417e+02</text>
<text x="24" y="111.3" style="font-family:'DejaVu Sans','Liberation Sans',sans-serif;font-size:6.6px" fill="#505050">+7.083e+01</text>
<text x="24" y="117.8" style="font-family:'DejaVu Sans','Liberation Sans',sans-serif;font-size:6.6px" fill="#505050">+0.000e+00</text>
</g>
<g transform="translate(820.4,1586.8)">
<rect x="0.5" y="0.5" width="90.3" height="121.9" rx="1.5" fill="#fff" stroke="#b8b8b8" stroke-width="1.1"/>
<text x="6.5" y="12.2" style="font-family:'DejaVu Sans','Liberation Sans',sans-serif;font-size:6.5px" fill="#505050">S, Mises</text>
<text x="6.5" y="20.4" style="font-family:'DejaVu Sans','Liberation Sans',sans-serif;font-size:6.5px" fill="#505050">SNEG, (fraction = -1.0)</text>
<text x="6.5" y="28.6" style="font-family:'DejaVu Sans','Liberation Sans',sans-serif;font-size:6.5px" fill="#505050">(Avg: 75%)</text>
<rect x="6.5" y="36.71" width="10.1" height="6.41" fill="#c8c8c8"/>
<rect x="6.5" y="42.82" width="10.1" height="6.41" fill="#ff0000"/>
<rect x="6.5" y="48.93" width="10.1" height="6.41" fill="#ff5a00"/>
<rect x="6.5" y="55.03" width="10.1" height="6.41" fill="#ffb400"/>
<rect x="6.5" y="61.14" width="10.1" height="6.41" fill="#e6ff00"/>
<rect x="6.5" y="67.25" width="10.1" height="6.41" fill="#8cff00"/>
<rect x="6.5" y="73.36" width="10.1" height="6.41" fill="#2eff00"/>
<rect x="6.5" y="79.47" width="10.1" height="6.41" fill="#00e82e"/>
<rect x="6.5" y="85.58" width="10.1" height="6.41" fill="#00ff8c"/>
<rect x="6.5" y="91.68" width="10.1" height="6.41" fill="#00ffe6"/>
<rect x="6.5" y="97.79" width="10.1" height="6.41" fill="#00b4ff"/>
<rect x="6.5" y="103.90" width="10.1" height="6.41" fill="#005aff"/>
<rect x="6.5" y="110.01" width="10.1" height="6.41" fill="#0000ff"/>
<text x="24" y="38.9" style="font-family:'DejaVu Sans','Liberation Sans',sans-serif;font-size:6.6px" fill="#505050">+8.526e+02</text>
<text x="24" y="45.0" style="font-family:'DejaVu Sans','Liberation Sans',sans-serif;font-size:6.6px" fill="#505050">+9.500e+02</text>
<text x="24" y="51.1" style="font-family:'DejaVu Sans','Liberation Sans',sans-serif;font-size:6.6px" fill="#505050">+7.792e+02</text>
<text x="24" y="57.2" style="font-family:'DejaVu Sans','Liberation Sans',sans-serif;font-size:6.6px" fill="#505050">+7.083e+02</text>
<text x="24" y="63.3" style="font-family:'DejaVu Sans','Liberation Sans',sans-serif;font-size:6.6px" fill="#505050">+6.375e+02</text>
<text x="24" y="69.5" style="font-family:'DejaVu Sans','Liberation Sans',sans-serif;font-size:6.6px" fill="#505050">+5.667e+02</text>
<text x="24" y="75.6" style="font-family:'DejaVu Sans','Liberation Sans',sans-serif;font-size:6.6px" fill="#505050">+4.958e+02</text>
<text x="24" y="81.7" style="font-family:'DejaVu Sans','Liberation Sans',sans-serif;font-size:6.6px" fill="#505050">+4.250e+02</text>
<text x="24" y="87.8" style="font-family:'DejaVu Sans','Liberation Sans',sans-serif;font-size:6.6px" fill="#505050">+3.542e+02</text>
<text x="24" y="93.9" style="font-family:'DejaVu Sans','Liberation Sans',sans-serif;font-size:6.6px" fill="#505050">+2.833e+02</text>
<text x="24" y="100.0" style="font-family:'DejaVu Sans','Liberation Sans',sans-serif;font-size:6.6px" fill="#505050">+2.125e+02</text>
<text x="24" y="106.1" style="font-family:'DejaVu Sans','Liberation Sans',sans-serif;font-size:6.6px" fill="#505050">+1.417e+02</text>
<text x="24" y="112.2" style="font-family:'DejaVu Sans','Liberation Sans',sans-serif;font-size:6.6px" fill="#505050">+7.083e+01</text>
<text x="24" y="118.3" style="font-family:'DejaVu Sans','Liberation Sans',sans-serif;font-size:6.6px" fill="#505050">+0.000e+00</text>
</g>
<g transform="translate(820.4,1718.5)">
<rect x="0.5" y="0.5" width="90.3" height="118.9" rx="1.5" fill="#fff" stroke="#b8b8b8" stroke-width="1.1"/>
<text x="6.5" y="12.2" style="font-family:'DejaVu Sans','Liberation Sans',sans-serif;font-size:6.5px" fill="#505050">S, Mises</text>
<text x="6.5" y="20.4" style="font-family:'DejaVu Sans','Liberation Sans',sans-serif;font-size:6.5px" fill="#505050">SNEG, (fraction = -1.0)</text>
<text x="6.5" y="28.6" style="font-family:'DejaVu Sans','Liberation Sans',sans-serif;font-size:6.5px" fill="#505050">(Avg: 75%)</text>
<rect x="6.5" y="35.81" width="10.1" height="6.26" fill="#c8c8c8"/>
<rect x="6.5" y="41.77" width="10.1" height="6.26" fill="#ff0000"/>
<rect x="6.5" y="47.73" width="10.1" height="6.26" fill="#ff5a00"/>
<rect x="6.5" y="53.69" width="10.1" height="6.26" fill="#ffb400"/>
<rect x="6.5" y="59.65" width="10.1" height="6.26" fill="#e6ff00"/>
<rect x="6.5" y="65.61" width="10.1" height="6.26" fill="#8cff00"/>
<rect x="6.5" y="71.57" width="10.1" height="6.26" fill="#2eff00"/>
<rect x="6.5" y="77.53" width="10.1" height="6.26" fill="#00e82e"/>
<rect x="6.5" y="83.49" width="10.1" height="6.26" fill="#00ff8c"/>
<rect x="6.5" y="89.45" width="10.1" height="6.26" fill="#00ffe6"/>
<rect x="6.5" y="95.40" width="10.1" height="6.26" fill="#00b4ff"/>
<rect x="6.5" y="101.36" width="10.1" height="6.26" fill="#005aff"/>
<rect x="6.5" y="107.32" width="10.1" height="6.26" fill="#0000ff"/>
<text x="24" y="38.0" style="font-family:'DejaVu Sans','Liberation Sans',sans-serif;font-size:6.6px" fill="#505050">+8.526e+02</text>
<text x="24" y="44.0" style="font-family:'DejaVu Sans','Liberation Sans',sans-serif;font-size:6.6px" fill="#505050">+9.500e+02</text>
<text x="24" y="49.9" style="font-family:'DejaVu Sans','Liberation Sans',sans-serif;font-size:6.6px" fill="#505050">+7.792e+02</text>
<text x="24" y="55.9" style="font-family:'DejaVu Sans','Liberation Sans',sans-serif;font-size:6.6px" fill="#505050">+7.083e+02</text>
<text x="24" y="61.9" style="font-family:'DejaVu Sans','Liberation Sans',sans-serif;font-size:6.6px" fill="#505050">+6.375e+02</text>
<text x="24" y="67.8" style="font-family:'DejaVu Sans','Liberation Sans',sans-serif;font-size:6.6px" fill="#505050">+5.667e+02</text>
<text x="24" y="73.8" style="font-family:'DejaVu Sans','Liberation Sans',sans-serif;font-size:6.6px" fill="#505050">+4.958e+02</text>
<text x="24" y="79.7" style="font-family:'DejaVu Sans','Liberation Sans',sans-serif;font-size:6.6px" fill="#505050">+4.250e+02</text>
<text x="24" y="85.7" style="font-family:'DejaVu Sans','Liberation Sans',sans-serif;font-size:6.6px" fill="#505050">+3.542e+02</text>
<text x="24" y="91.6" style="font-family:'DejaVu Sans','Liberation Sans',sans-serif;font-size:6.6px" fill="#505050">+2.833e+02</text>
<text x="24" y="97.6" style="font-family:'DejaVu Sans','Liberation Sans',sans-serif;font-size:6.6px" fill="#505050">+2.125e+02</text>
<text x="24" y="103.6" style="font-family:'DejaVu Sans','Liberation Sans',sans-serif;font-size:6.6px" fill="#505050">+1.417e+02</text>
<text x="24" y="109.5" style="font-family:'DejaVu Sans','Liberation Sans',sans-serif;font-size:6.6px" fill="#505050">+7.083e+01</text>
<text x="24" y="115.5" style="font-family:'DejaVu Sans','Liberation Sans',sans-serif;font-size:6.6px" fill="#505050">+0.000e+00</text>
</g>
<g transform="matrix(1.00000,0.00000,0.00000,1.00000,-0.000,-0.000)">
<polygon points="1083.5,131.3 1083.5,128.0 1161.0,115.0 1161.0,155.5 1120.0,143.5" fill="url(#gCyl)" stroke="#7a7a7a" stroke-width="0.8" stroke-linejoin="round"/>
<line x1="1111" y1="126" x2="1116.5" y2="142.6" stroke="#7a7a7a" stroke-width="0.8" stroke-linejoin="round"/>
<ellipse cx="1161" cy="139.5" rx="13" ry="16.3" fill="url(#gCap)" stroke="#7a7a7a" stroke-width="0.8" stroke-linejoin="round"/>
<polygon points="929.5,119.7 932.0,96.0 1016.8,116.0 1003.6,143.3" fill="#28b838"/>
<polygon points="929.5,119.7 948.0,99.5 966.7,130.8" fill="url(#gTri)"/>
<polygon points="966.7,130.8 985.5,110.6 1003.6,143.3" fill="url(#gTri)"/>
<polygon points="948.0,99.5 985.5,110.6 966.7,130.8" fill="url(#gSpot)"/>
<polygon points="985.5,110.6 1016.8,115.0 1003.6,143.3" fill="url(#gSpot)"/>
<polygon points="1016.8,115.0 1080.0,105.2 1192.8,87.5 1205.0,111.8 1080.0,132.1 1003.6,143.3" fill="url(#gFront)"/>
<polygon points="1016.5,79.7 1130.3,61.9 1205.0,84.6 1192.8,87.5 1080.0,105.2 1016.8,115.0" fill="url(#gTop)"/>
<polygon points="1016.5,79.7 1130.3,61.9 1168.7,73.6 1016.8,95.8" fill="url(#gTopK)"/>
<polyline points="1016.8,95.8 1168.7,73.6" fill="none" stroke="#203040" stroke-width="0.7" opacity="0.7"/>
<polyline points="1016.8,115.0 1192.8,87.5 1205.0,84.6" fill="none" stroke="#203040" stroke-width="0.7" opacity="0.6"/>
<polygon points="929.5,91.5 1016.8,111.5 1016.8,116.5 929.5,94.0" fill="#e65a10"/>
<polygon points="929.5,91.5 945.0,95.0 945.0,97.0 929.5,94.0" fill="#30a0a0"/>
<polygon points="1016.3,111.0 1030.0,110.0 1048.0,108.5 1030.0,113.2 1016.8,116.5" fill="#e06018"/>
<polygon points="942.0,54.6 1016.8,77.9 1016.3,105.0 1014.7,108.5 1010.6,110.3 1005.7,111.0 931.3,89.4 930.9,88.0 936.1,87.0 940.3,84.2 941.7,80.7" fill="url(#gInd)" stroke="#7a7a7a" stroke-width="0.8" stroke-linejoin="round"/>
<path d="M980,67.1 L979,91 Q978.5,94 975.5,95.5" fill="none" stroke="#7a7a7a" stroke-width="0.8" stroke-linejoin="round"/>
</g>
<text x="997.2" y="170.5" style="font-family:'Liberation Serif','Times New Roman',serif;font-size:33px;font-weight:bold">original</text>
<g transform="matrix(0.99700,-0.00183,-0.02258,0.92619,4.674,135.714)">
<polygon points="1083.5,131.3 1083.5,128.0 1161.0,115.0 1161.0,155.5 1120.0,143.5" fill="url(#gCyl)" stroke="#7a7a7a" stroke-width="0.8" stroke-linejoin="round"/>
<line x1="1111" y1="126" x2="1116.5" y2="142.6" stroke="#7a7a7a" stroke-width="0.8" stroke-linejoin="round"/>
<ellipse cx="1161" cy="139.5" rx="13" ry="16.3" fill="url(#gCap)" stroke="#7a7a7a" stroke-width="0.8" stroke-linejoin="round"/>
<polygon points="929.5,119.7 932.0,96.0 1016.8,116.0 1003.6,143.3" fill="#28b838"/>
<polygon points="929.5,119.7 948.0,99.5 966.7,130.8" fill="url(#gTri)"/>
<polygon points="966.7,130.8 985.5,110.6 1003.6,143.3" fill="url(#gTri)"/>
<polygon points="948.0,99.5 985.5,110.6 966.7,130.8" fill="url(#gSpot)"/>
<polygon points="985.5,110.6 1016.8,115.0 1003.6,143.3" fill="url(#gSpot)"/>
<polygon points="1016.8,115.0 1080.0,105.2 1192.8,87.5 1205.0,111.8 1080.0,132.1 1003.6,143.3" fill="url(#gFront)"/>
<polygon points="1016.5,79.7 1130.3,61.9 1205.0,84.6 1192.8,87.5 1080.0,105.2 1016.8,115.0" fill="url(#gTop)"/>
<polygon points="1016.5,79.7 1130.3,61.9 1168.7,73.6 1016.8,95.8" fill="url(#gTopK)"/>
<polyline points="1016.8,95.8 1168.7,73.6" fill="none" stroke="#203040" stroke-width="0.7" opacity="0.7"/>
<polyline points="1016.8,115.0 1192.8,87.5 1205.0,84.6" fill="none" stroke="#203040" stroke-width="0.7" opacity="0.6"/>
<polygon points="929.5,91.5 1016.8,111.5 1016.8,116.5 929.5,94.0" fill="#e65a10"/>
<polygon points="929.5,91.5 945.0,95.0 945.0,97.0 929.5,94.0" fill="#30a0a0"/>
<polygon points="1016.3,111.0 1030.0,110.0 1048.0,108.5 1030.0,113.2 1016.8,116.5" fill="#e06018"/>
<polygon points="942.0,54.6 1016.8,77.9 1016.3,105.0 1014.7,108.5 1010.6,110.3 1005.7,111.0 931.3,89.4 930.9,88.0 936.1,87.0 940.3,84.2 941.7,80.7" fill="url(#gInd)" stroke="#7a7a7a" stroke-width="0.8" stroke-linejoin="round"/>
<path d="M980,67.1 L979,91 Q978.5,94 975.5,95.5" fill="none" stroke="#7a7a7a" stroke-width="0.8" stroke-linejoin="round"/>
</g>
<text x="1009.4" y="290.2" style="font-family:'Liberation Serif','Times New Roman',serif;font-size:33px;font-weight:bold">0.5 mm</text>
<g transform="matrix(0.95603,-0.00419,-0.00515,0.91065,42.381,268.300)">
<polygon points="1083.5,131.3 1083.5,128.0 1161.0,115.0 1161.0,155.5 1120.0,143.5" fill="url(#gCyl)" stroke="#7a7a7a" stroke-width="0.8" stroke-linejoin="round"/>
<line x1="1111" y1="126" x2="1116.5" y2="142.6" stroke="#7a7a7a" stroke-width="0.8" stroke-linejoin="round"/>
<ellipse cx="1161" cy="139.5" rx="13" ry="16.3" fill="url(#gCap)" stroke="#7a7a7a" stroke-width="0.8" stroke-linejoin="round"/>
<polygon points="929.5,119.7 932.0,96.0 1016.8,116.0 1003.6,143.3" fill="#28b838"/>
<polygon points="929.5,119.7 948.0,99.5 966.7,130.8" fill="url(#gTri)"/>
<polygon points="966.7,130.8 985.5,110.6 1003.6,143.3" fill="url(#gTri)"/>
<polygon points="948.0,99.5 985.5,110.6 966.7,130.8" fill="url(#gSpot)"/>
<polygon points="985.5,110.6 1016.8,115.0 1003.6,143.3" fill="url(#gSpot)"/>
<polygon points="1016.8,115.0 1080.0,105.2 1192.8,87.5 1205.0,111.8 1080.0,132.1 1003.6,143.3" fill="url(#gFront)"/>
<polygon points="1016.5,79.7 1130.3,61.9 1205.0,84.6 1192.8,87.5 1080.0,105.2 1016.8,115.0" fill="url(#gTop)"/>
<polygon points="1016.5,79.7 1130.3,61.9 1168.7,73.6 1016.8,95.8" fill="url(#gTopK)"/>
<polyline points="1016.8,95.8 1168.7,73.6" fill="none" stroke="#203040" stroke-width="0.7" opacity="0.7"/>
<polyline points="1016.8,115.0 1192.8,87.5 1205.0,84.6" fill="none" stroke="#203040" stroke-width="0.7" opacity="0.6"/>
<polygon points="929.5,91.5 1016.8,111.5 1016.8,116.5 929.5,94.0" fill="#e65a10"/>
<polygon points="929.5,91.5 945.0,95.0 945.0,97.0 929.5,94.0" fill="#30a0a0"/>
<polygon points="1016.3,111.0 1030.0,110.0 1048.0,108.5 1030.0,113.2 1016.8,116.5" fill="#e06018"/>
<polygon points="942.0,54.6 1016.8,77.9 1016.3,105.0 1014.7,108.5 1010.6,110.3 1005.7,111.0 931.3,89.4 930.9,88.0 936.1,87.0 940.3,84.2 941.7,80.7" fill="url(#gInd)" stroke="#7a7a7a" stroke-width="0.8" stroke-linejoin="round"/>
<path d="M980,67.1 L979,91 Q978.5,94 975.5,95.5" fill="none" stroke="#7a7a7a" stroke-width="0.8" stroke-linejoin="round"/>
</g>
<text x="1013.1" y="419.5" style="font-family:'Liberation Serif','Times New Roman',serif;font-size:33px;font-weight:bold">1.0 mm</text>
<g transform="matrix(0.96731,0.00533,-0.01217,0.95231,42.279,388.202)">
<polygon points="1083.5,131.3 1083.5,128.0 1161.0,115.0 1161.0,155.5 1120.0,143.5" fill="url(#gCyl)" stroke="#7a7a7a" stroke-width="0.8" stroke-linejoin="round"/>
<line x1="1111" y1="126" x2="1116.5" y2="142.6" stroke="#7a7a7a" stroke-width="0.8" stroke-linejoin="round"/>
<ellipse cx="1161" cy="139.5" rx="13" ry="16.3" fill="url(#gCap)" stroke="#7a7a7a" stroke-width="0.8" stroke-linejoin="round"/>
<polygon points="929.5,119.7 932.0,96.0 1016.8,116.0 1003.6,143.3" fill="#28b838"/>
<polygon points="929.5,119.7 948.0,99.5 966.7,130.8" fill="url(#gTriB)"/>
<polygon points="966.7,130.8 985.5,110.6 1003.6,143.3" fill="url(#gTriB)"/>
<polygon points="948.0,99.5 985.5,110.6 966.7,130.8" fill="url(#gSpot)"/>
<polygon points="985.5,110.6 1016.8,115.0 1003.6,143.3" fill="url(#gSpot)"/>
<polygon points="1016.8,115.0 1080.0,105.2 1192.8,87.5 1205.0,111.8 1080.0,132.1 1003.6,143.3" fill="url(#gFrontB)"/>
<polygon points="1016.5,79.7 1130.3,61.9 1205.0,84.6 1192.8,87.5 1080.0,105.2 1016.8,115.0" fill="url(#gTop)"/>
<polygon points="1016.5,79.7 1130.3,61.9 1168.7,73.6 1016.8,95.8" fill="url(#gTopK)"/>
<polyline points="1016.8,95.8 1168.7,73.6" fill="none" stroke="#203040" stroke-width="0.7" opacity="0.7"/>
<polyline points="1016.8,115.0 1192.8,87.5 1205.0,84.6" fill="none" stroke="#203040" stroke-width="0.7" opacity="0.6"/>
<polygon points="929.5,91.5 1016.8,111.5 1016.8,116.5 929.5,94.0" fill="#e65a10"/>
<polygon points="929.5,91.5 945.0,95.0 945.0,97.0 929.5,94.0" fill="#30a0a0"/>
<polygon points="1016.3,111.0 1030.0,110.0 1048.0,108.5 1030.0,113.2 1016.8,116.5" fill="#e06018"/>
<polygon points="942.0,54.6 1016.8,77.9 1016.3,105.0 1014.7,108.5 1010.6,110.3 1005.7,111.0 931.3,89.4 930.9,88.0 936.1,87.0 940.3,84.2 941.7,80.7" fill="url(#gInd)" stroke="#7a7a7a" stroke-width="0.8" stroke-linejoin="round"/>
<path d="M980,67.1 L979,91 Q978.5,94 975.5,95.5" fill="none" stroke="#7a7a7a" stroke-width="0.8" stroke-linejoin="round"/>
</g>
<text x="1016.8000000000001" y="553.5" style="font-family:'Liberation Serif','Times New Roman',serif;font-size:33px;font-weight:bold">1.5 mm</text>
<g transform="matrix(0.99385,-0.00131,-0.02116,0.97970,7.932,645.699)">
<polygon points="1083.5,131.3 1083.5,128.0 1161.0,115.0 1161.0,155.5 1120.0,143.5" fill="url(#gCyl)" stroke="#7a7a7a" stroke-width="0.8" stroke-linejoin="round"/>
<line x1="1111" y1="126" x2="1116.5" y2="142.6" stroke="#7a7a7a" stroke-width="0.8" stroke-linejoin="round"/>
<ellipse cx="1161" cy="139.5" rx="13" ry="16.3" fill="url(#gCap)" stroke="#7a7a7a" stroke-width="0.8" stroke-linejoin="round"/>
<polygon points="929.5,119.7 932.0,96.0 1016.8,116.0 1003.6,143.3" fill="#28b838"/>
<polygon points="929.5,119.7 948.0,99.5 966.7,130.8" fill="url(#gTri)"/>
<polygon points="966.7,130.8 985.5,110.6 1003.6,143.3" fill="url(#gTri)"/>
<polygon points="948.0,99.5 985.5,110.6 966.7,130.8" fill="url(#gSpot)"/>
<polygon points="985.5,110.6 1016.8,115.0 1003.6,143.3" fill="url(#gSpot)"/>
<polygon points="1016.8,115.0 1080.0,105.2 1192.8,87.5 1205.0,111.8 1080.0,132.1 1003.6,143.3" fill="url(#gFront)"/>
<polygon points="1016.5,79.7 1130.3,61.9 1205.0,84.6 1192.8,87.5 1080.0,105.2 1016.8,115.0" fill="url(#gTop)"/>
<polygon points="1016.5,79.7 1130.3,61.9 1168.7,73.6 1016.8,95.8" fill="url(#gTopK)"/>
<polyline points="1016.8,95.8 1168.7,73.6" fill="none" stroke="#203040" stroke-width="0.7" opacity="0.7"/>
<polyline points="1016.8,115.0 1192.8,87.5 1205.0,84.6" fill="none" stroke="#203040" stroke-width="0.7" opacity="0.6"/>
<polygon points="929.5,91.5 1016.8,111.5 1016.8,116.5 929.5,94.0" fill="#e65a10"/>
<polygon points="929.5,91.5 945.0,95.0 945.0,97.0 929.5,94.0" fill="#30a0a0"/>
<polygon points="1016.3,111.0 1030.0,110.0 1048.0,108.5 1030.0,113.2 1016.8,116.5" fill="#e06018"/>
<polygon points="942.0,54.6 1016.8,77.9 1016.3,105.0 1014.7,108.5 1010.6,110.3 1005.7,111.0 931.3,89.4 930.9,88.0 936.1,87.0 940.3,84.2 941.7,80.7" fill="url(#gInd)" stroke="#7a7a7a" stroke-width="0.8" stroke-linejoin="round"/>
<path d="M980,67.1 L979,91 Q978.5,94 975.5,95.5" fill="none" stroke="#7a7a7a" stroke-width="0.8" stroke-linejoin="round"/>
</g>
<text x="995.6" y="813.7" style="font-family:'Liberation Serif','Times New Roman',serif;font-size:33px;font-weight:bold">original</text>
<g transform="matrix(0.98053,-0.00344,-0.01230,0.96809,18.350,776.550)">
<polygon points="1083.5,131.3 1083.5,128.0 1161.0,115.0 1161.0,155.5 1120.0,143.5" fill="url(#gCyl)" stroke="#7a7a7a" stroke-width="0.8" stroke-linejoin="round"/>
<line x1="1111" y1="126" x2="1116.5" y2="142.6" stroke="#7a7a7a" stroke-width="0.8" stroke-linejoin="round"/>
<ellipse cx="1161" cy="139.5" rx="13" ry="16.3" fill="url(#gCap)" stroke="#7a7a7a" stroke-width="0.8" stroke-linejoin="round"/>
<polygon points="929.5,119.7 932.0,96.0 1016.8,116.0 1003.6,143.3" fill="#28b838"/>
<polygon points="929.5,119.7 948.0,99.5 966.7,130.8" fill="url(#gTri)"/>
<polygon points="966.7,130.8 985.5,110.6 1003.6,143.3" fill="url(#gTri)"/>
<polygon points="948.0,99.5 985.5,110.6 966.7,130.8" fill="url(#gSpot)"/>
<polygon points="985.5,110.6 1016.8,115.0 1003.6,143.3" fill="url(#gSpot)"/>
<polygon points="1016.8,115.0 1080.0,105.2 1192.8,87.5 1205.0,111.8 1080.0,132.1 1003.6,143.3" fill="url(#gFront)"/>
<polygon points="1016.5,79.7 1130.3,61.9 1205.0,84.6 1192.8,87.5 1080.0,105.2 1016.8,115.0" fill="url(#gTop)"/>
<polygon points="1016.5,79.7 1130.3,61.9 1168.7,73.6 1016.8,95.8" fill="url(#gTopK)"/>
<polyline points="1016.8,95.8 1168.7,73.6" fill="none" stroke="#203040" stroke-width="0.7" opacity="0.7"/>
<polyline points="1016.8,115.0 1192.8,87.5 1205.0,84.6" fill="none" stroke="#203040" stroke-width="0.7" opacity="0.6"/>
<polygon points="929.5,91.5 1016.8,111.5 1016.8,116.5 929.5,94.0" fill="#e65a10"/>
<polygon points="929.5,91.5 945.0,95.0 945.0,97.0 929.5,94.0" fill="#30a0a0"/>
<polygon points="1016.3,111.0 1030.0,110.0 1048.0,108.5 1030.0,113.2 1016.8,116.5" fill="#e06018"/>
<polygon points="942.0,54.6 1016.8,77.9 1016.3,105.0 1014.7,108.5 1010.6,110.3 1005.7,111.0 931.3,89.4 930.9,88.0 936.1,87.0 940.3,84.2 941.7,80.7" fill="url(#gInd)" stroke="#7a7a7a" stroke-width="0.8" stroke-linejoin="round"/>
<path d="M980,67.1 L979,91 Q978.5,94 975.5,95.5" fill="none" stroke="#7a7a7a" stroke-width="0.8" stroke-linejoin="round"/>
</g>
<text x="1008.5" y="931.2" style="font-family:'Liberation Serif','Times New Roman',serif;font-size:33px;font-weight:bold">0.5 mm</text>
<g transform="matrix(0.99780,-0.00219,-0.00462,0.98293,3.225,901.985)">
<polygon points="1083.5,131.3 1083.5,128.0 1161.0,115.0 1161.0,155.5 1120.0,143.5" fill="url(#gCyl)" stroke="#7a7a7a" stroke-width="0.8" stroke-linejoin="round"/>
<line x1="1111" y1="126" x2="1116.5" y2="142.6" stroke="#7a7a7a" stroke-width="0.8" stroke-linejoin="round"/>
<ellipse cx="1161" cy="139.5" rx="13" ry="16.3" fill="url(#gCap)" stroke="#7a7a7a" stroke-width="0.8" stroke-linejoin="round"/>
<polygon points="929.5,119.7 932.0,96.0 1016.8,116.0 1003.6,143.3" fill="#28b838"/>
<polygon points="929.5,119.7 948.0,99.5 966.7,130.8" fill="url(#gTri)"/>
<polygon points="966.7,130.8 985.5,110.6 1003.6,143.3" fill="url(#gTri)"/>
<polygon points="948.0,99.5 985.5,110.6 966.7,130.8" fill="url(#gSpot)"/>
<polygon points="985.5,110.6 1016.8,115.0 1003.6,143.3" fill="url(#gSpot)"/>
<polygon points="1016.8,115.0 1080.0,105.2 1192.8,87.5 1205.0,111.8 1080.0,132.1 1003.6,143.3" fill="url(#gFrontY)"/>
<polygon points="1016.5,79.7 1130.3,61.9 1205.0,84.6 1192.8,87.5 1080.0,105.2 1016.8,115.0" fill="url(#gTopY)"/>
<polygon points="1016.5,79.7 1130.3,61.9 1168.7,73.6 1016.8,95.8" fill="url(#gTopYK)"/>
<polyline points="1016.8,95.8 1168.7,73.6" fill="none" stroke="#203040" stroke-width="0.7" opacity="0.7"/>
<polyline points="1016.8,115.0 1192.8,87.5 1205.0,84.6" fill="none" stroke="#203040" stroke-width="0.7" opacity="0.6"/>
<polygon points="929.5,91.5 1016.8,111.5 1016.8,116.5 929.5,94.0" fill="#e65a10"/>
<polygon points="929.5,91.5 945.0,95.0 945.0,97.0 929.5,94.0" fill="#30a0a0"/>
<polygon points="1016.3,111.0 1030.0,110.0 1048.0,108.5 1030.0,113.2 1016.8,116.5" fill="#e06018"/>
<polygon points="942.0,54.6 1016.8,77.9 1016.3,105.0 1014.7,108.5 1010.6,110.3 1005.7,111.0 931.3,89.4 930.9,88.0 936.1,87.0 940.3,84.2 941.7,80.7" fill="url(#gInd)" stroke="#7a7a7a" stroke-width="0.8" stroke-linejoin="round"/>
<path d="M980,67.1 L979,91 Q978.5,94 975.5,95.5" fill="none" stroke="#7a7a7a" stroke-width="0.8" stroke-linejoin="round"/>
</g>
<text x="1010.1" y="1059.9" style="font-family:'Liberation Serif','Times New Roman',serif;font-size:33px;font-weight:bold">1.0 mm</text>
<g transform="matrix(0.98566,0.00416,-0.00029,0.90071,14.270,1028.601)">
<polygon points="1083.5,131.3 1083.5,128.0 1161.0,115.0 1161.0,155.5 1120.0,143.5" fill="url(#gCyl)" stroke="#7a7a7a" stroke-width="0.8" stroke-linejoin="round"/>
<line x1="1111" y1="126" x2="1116.5" y2="142.6" stroke="#7a7a7a" stroke-width="0.8" stroke-linejoin="round"/>
<ellipse cx="1161" cy="139.5" rx="13" ry="16.3" fill="url(#gCap)" stroke="#7a7a7a" stroke-width="0.8" stroke-linejoin="round"/>
<polygon points="929.5,119.7 932.0,96.0 1016.8,116.0 1003.6,143.3" fill="#28b838"/>
<polygon points="929.5,119.7 948.0,99.5 966.7,130.8" fill="url(#gTriC)"/>
<polygon points="966.7,130.8 985.5,110.6 1003.6,143.3" fill="url(#gTriC)"/>
<polygon points="948.0,99.5 985.5,110.6 966.7,130.8" fill="url(#gSpotC)"/>
<polygon points="985.5,110.6 1016.8,115.0 1003.6,143.3" fill="url(#gSpotC)"/>
<polygon points="1016.8,115.0 1080.0,105.2 1192.8,87.5 1205.0,111.8 1080.0,132.1 1003.6,143.3" fill="url(#gFrontC)"/>
<polygon points="1016.5,79.7 1130.3,61.9 1205.0,84.6 1192.8,87.5 1080.0,105.2 1016.8,115.0" fill="url(#gTopB)"/>
<polygon points="1016.5,79.7 1130.3,61.9 1168.7,73.6 1016.8,95.8" fill="url(#gTopBK)"/>
<polyline points="1016.8,95.8 1168.7,73.6" fill="none" stroke="#203040" stroke-width="0.7" opacity="0.7"/>
<polyline points="1016.8,115.0 1192.8,87.5 1205.0,84.6" fill="none" stroke="#203040" stroke-width="0.7" opacity="0.6"/>
<polygon points="929.5,91.5 1016.8,111.5 1016.8,116.5 929.5,94.0" fill="#e65a10"/>
<polygon points="929.5,91.5 945.0,95.0 945.0,97.0 929.5,94.0" fill="#30a0a0"/>
<polygon points="1016.3,111.0 1030.0,110.0 1048.0,108.5 1030.0,113.2 1016.8,116.5" fill="#e06018"/>
<polygon points="942.0,54.6 1016.8,77.9 1016.3,105.0 1014.7,108.5 1010.6,110.3 1005.7,111.0 931.3,89.4 930.9,88.0 936.1,87.0 940.3,84.2 941.7,80.7" fill="url(#gInd)" stroke="#7a7a7a" stroke-width="0.8" stroke-linejoin="round"/>
<path d="M980,67.1 L979,91 Q978.5,94 975.5,95.5" fill="none" stroke="#7a7a7a" stroke-width="0.8" stroke-linejoin="round"/>
</g>
<text x="1013.3000000000001" y="1193.4" style="font-family:'Liberation Serif','Times New Roman',serif;font-size:33px;font-weight:bold">1.5 mm</text>
<g transform="matrix(1.00205,0.00289,-0.00495,0.98150,1.502,1276.147)">
<polygon points="1083.5,131.3 1083.5,128.0 1161.0,115.0 1161.0,155.5 1120.0,143.5" fill="url(#gCyl)" stroke="#7a7a7a" stroke-width="0.8" stroke-linejoin="round"/>
<line x1="1111" y1="126" x2="1116.5" y2="142.6" stroke="#7a7a7a" stroke-width="0.8" stroke-linejoin="round"/>
<ellipse cx="1161" cy="139.5" rx="13" ry="16.3" fill="url(#gCap)" stroke="#7a7a7a" stroke-width="0.8" stroke-linejoin="round"/>
<polygon points="929.5,119.7 932.0,96.0 1016.8,116.0 1003.6,143.3" fill="#28b838"/>
<polygon points="929.5,119.7 948.0,99.5 966.7,130.8" fill="url(#gTri)"/>
<polygon points="966.7,130.8 985.5,110.6 1003.6,143.3" fill="url(#gTri)"/>
<polygon points="948.0,99.5 985.5,110.6 966.7,130.8" fill="url(#gSpot)"/>
<polygon points="985.5,110.6 1016.8,115.0 1003.6,143.3" fill="url(#gSpot)"/>
<polygon points="1016.8,115.0 1080.0,105.2 1192.8,87.5 1205.0,111.8 1080.0,132.1 1003.6,143.3" fill="url(#gFront)"/>
<polygon points="1016.5,79.7 1130.3,61.9 1205.0,84.6 1192.8,87.5 1080.0,105.2 1016.8,115.0" fill="url(#gTop)"/>
<polygon points="1016.5,79.7 1130.3,61.9 1168.7,73.6 1016.8,95.8" fill="url(#gTopK)"/>
<polyline points="1016.8,95.8 1168.7,73.6" fill="none" stroke="#203040" stroke-width="0.7" opacity="0.7"/>
<polyline points="1016.8,115.0 1192.8,87.5 1205.0,84.6" fill="none" stroke="#203040" stroke-width="0.7" opacity="0.6"/>
<polygon points="929.5,91.5 1016.8,111.5 1016.8,116.5 929.5,94.0" fill="#e65a10"/>
<polygon points="929.5,91.5 945.0,95.0 945.0,97.0 929.5,94.0" fill="#30a0a0"/>
<polygon points="1016.3,111.0 1030.0,110.0 1048.0,108.5 1030.0,113.2 1016.8,116.5" fill="#e06018"/>
<polygon points="942.0,54.6 1016.8,77.9 1016.3,105.0 1014.7,108.5 1010.6,110.3 1005.7,111.0 931.3,89.4 930.9,88.0 936.1,87.0 940.3,84.2 941.7,80.7" fill="url(#gInd)" stroke="#7a7a7a" stroke-width="0.8" stroke-linejoin="round"/>
<path d="M980,67.1 L979,91 Q978.5,94 975.5,95.5" fill="none" stroke="#7a7a7a" stroke-width="0.8" stroke-linejoin="round"/>
</g>
<text x="998.3000000000001" y="1444.7" style="font-family:'Liberation Serif','Times New Roman',serif;font-size:33px;font-weight:bold">original</text>
<g transform="matrix(0.98786,-0.00097,0.00783,0.97666,13.989,1410.897)">
<polygon points="1083.5,131.3 1083.5,128.0 1161.0,115.0 1161.0,155.5 1120.0,143.5" fill="url(#gCyl)" stroke="#7a7a7a" stroke-width="0.8" stroke-linejoin="round"/>
<line x1="1111" y1="126" x2="1116.5" y2="142.6" stroke="#7a7a7a" stroke-width="0.8" stroke-linejoin="round"/>
<ellipse cx="1161" cy="139.5" rx="13" ry="16.3" fill="url(#gCap)" stroke="#7a7a7a" stroke-width="0.8" stroke-linejoin="round"/>
<polygon points="929.5,119.7 932.0,96.0 1016.8,116.0 1003.6,143.3" fill="#28b838"/>
<polygon points="929.5,119.7 948.0,99.5 966.7,130.8" fill="url(#gTri)"/>
<polygon points="966.7,130.8 985.5,110.6 1003.6,143.3" fill="url(#gTri)"/>
<polygon points="948.0,99.5 985.5,110.6 966.7,130.8" fill="url(#gSpot)"/>
<polygon points="985.5,110.6 1016.8,115.0 1003.6,143.3" fill="url(#gSpot)"/>
<polygon points="1016.8,115.0 1080.0,105.2 1192.8,87.5 1205.0,111.8 1080.0,132.1 1003.6,143.3" fill="url(#gFront)"/>
<polygon points="1016.5,79.7 1130.3,61.9 1205.0,84.6 1192.8,87.5 1080.0,105.2 1016.8,115.0" fill="url(#gTop)"/>
<polygon points="1016.5,79.7 1130.3,61.9 1168.7,73.6 1016.8,95.8" fill="url(#gTopK)"/>
<polyline points="1016.8,95.8 1168.7,73.6" fill="none" stroke="#203040" stroke-width="0.7" opacity="0.7"/>
<polyline points="1016.8,115.0 1192.8,87.5 1205.0,84.6" fill="none" stroke="#203040" stroke-width="0.7" opacity="0.6"/>
<polygon points="929.5,91.5 1016.8,111.5 1016.8,116.5 929.5,94.0" fill="#e65a10"/>
<polygon points="929.5,91.5 945.0,95.0 945.0,97.0 929.5,94.0" fill="#30a0a0"/>
<polygon points="1016.3,111.0 1030.0,110.0 1048.0,108.5 1030.0,113.2 1016.8,116.5" fill="#e06018"/>
<polygon points="942.0,54.6 1016.8,77.9 1016.3,105.0 1014.7,108.5 1010.6,110.3 1005.7,111.0 931.3,89.4 930.9,88.0 936.1,87.0 940.3,84.2 941.7,80.7" fill="url(#gInd)" stroke="#7a7a7a" stroke-width="0.8" stroke-linejoin="round"/>
<path d="M980,67.1 L979,91 Q978.5,94 975.5,95.5" fill="none" stroke="#7a7a7a" stroke-width="0.8" stroke-linejoin="round"/>
</g>
<text x="1010.8000000000001" y="1568.6" style="font-family:'Liberation Serif','Times New Roman',serif;font-size:33px;font-weight:bold">0.5 mm</text>
<g transform="matrix(0.97801,-0.00210,0.00657,0.93197,22.318,1544.557)">
<polygon points="1083.5,131.3 1083.5,128.0 1161.0,115.0 1161.0,155.5 1120.0,143.5" fill="url(#gCyl)" stroke="#7a7a7a" stroke-width="0.8" stroke-linejoin="round"/>
<line x1="1111" y1="126" x2="1116.5" y2="142.6" stroke="#7a7a7a" stroke-width="0.8" stroke-linejoin="round"/>
<ellipse cx="1161" cy="139.5" rx="13" ry="16.3" fill="url(#gCap)" stroke="#7a7a7a" stroke-width="0.8" stroke-linejoin="round"/>
<polygon points="929.5,119.7 932.0,96.0 1016.8,116.0 1003.6,143.3" fill="#28b838"/>
<polygon points="929.5,119.7 948.0,99.5 966.7,130.8" fill="url(#gTri)"/>
<polygon points="966.7,130.8 985.5,110.6 1003.6,143.3" fill="url(#gTri)"/>
<polygon points="948.0,99.5 985.5,110.6 966.7,130.8" fill="url(#gSpot)"/>
<polygon points="985.5,110.6 1016.8,115.0 1003.6,143.3" fill="url(#gSpot)"/>
<polygon points="1016.8,115.0 1080.0,105.2 1192.8,87.5 1205.0,111.8 1080.0,132.1 1003.6,143.3" fill="url(#gFront)"/>
<polygon points="1016.5,79.7 1130.3,61.9 1205.0,84.6 1192.8,87.5 1080.0,105.2 1016.8,115.0" fill="url(#gTop)"/>
<polygon points="1016.5,79.7 1130.3,61.9 1168.7,73.6 1016.8,95.8" fill="url(#gTopK)"/>
<polyline points="1016.8,95.8 1168.7,73.6" fill="none" stroke="#203040" stroke-width="0.7" opacity="0.7"/>
<polyline points="1016.8,115.0 1192.8,87.5 1205.0,84.6" fill="none" stroke="#203040" stroke-width="0.7" opacity="0.6"/>
<polygon points="929.5,91.5 1016.8,111.5 1016.8,116.5 929.5,94.0" fill="#e65a10"/>
<polygon points="929.5,91.5 945.0,95.0 945.0,97.0 929.5,94.0" fill="#30a0a0"/>
<polygon points="1016.3,111.0 1030.0,110.0 1048.0,108.5 1030.0,113.2 1016.8,116.5" fill="#e06018"/>
<polygon points="942.0,54.6 1016.8,77.9 1016.3,105.0 1014.7,108.5 1010.6,110.3 1005.7,111.0 931.3,89.4 930.9,88.0 936.1,87.0 940.3,84.2 941.7,80.7" fill="url(#gInd)" stroke="#7a7a7a" stroke-width="0.8" stroke-linejoin="round"/>
<path d="M980,67.1 L979,91 Q978.5,94 975.5,95.5" fill="none" stroke="#7a7a7a" stroke-width="0.8" stroke-linejoin="round"/>
</g>
<text x="1013.9" y="1701.9" style="font-family:'Liberation Serif','Times New Roman',serif;font-size:33px;font-weight:bold">1.0 mm</text>
<g transform="matrix(0.99164,0.00021,-0.01672,0.86306,12.089,1678.492)">
<polygon points="1083.5,131.3 1083.5,128.0 1161.0,115.0 1161.0,155.5 1120.0,143.5" fill="url(#gCyl)" stroke="#7a7a7a" stroke-width="0.8" stroke-linejoin="round"/>
<line x1="1111" y1="126" x2="1116.5" y2="142.6" stroke="#7a7a7a" stroke-width="0.8" stroke-linejoin="round"/>
<ellipse cx="1161" cy="139.5" rx="13" ry="16.3" fill="url(#gCap)" stroke="#7a7a7a" stroke-width="0.8" stroke-linejoin="round"/>
<polygon points="929.5,119.7 932.0,96.0 1016.8,116.0 1003.6,143.3" fill="#28b838"/>
<polygon points="929.5,119.7 948.0,99.5 966.7,130.8" fill="url(#gTriC)"/>
<polygon points="966.7,130.8 985.5,110.6 1003.6,143.3" fill="url(#gTriC)"/>
<polygon points="948.0,99.5 985.5,110.6 966.7,130.8" fill="url(#gSpotC)"/>
<polygon points="985.5,110.6 1016.8,115.0 1003.6,143.3" fill="url(#gSpotC)"/>
<polygon points="1016.8,115.0 1080.0,105.2 1192.8,87.5 1205.0,111.8 1080.0,132.1 1003.6,143.3" fill="url(#gFrontCB)"/>
<polygon points="1016.5,79.7 1130.3,61.9 1205.0,84.6 1192.8,87.5 1080.0,105.2 1016.8,115.0" fill="url(#gTopB)"/>
<polygon points="1016.5,79.7 1130.3,61.9 1168.7,73.6 1016.8,95.8" fill="url(#gTopBK)"/>
<polyline points="1016.8,95.8 1168.7,73.6" fill="none" stroke="#203040" stroke-width="0.7" opacity="0.7"/>
<polyline points="1016.8,115.0 1192.8,87.5 1205.0,84.6" fill="none" stroke="#203040" stroke-width="0.7" opacity="0.6"/>
<polygon points="929.5,91.5 1016.8,111.5 1016.8,116.5 929.5,94.0" fill="#e65a10"/>
<polygon points="929.5,91.5 945.0,95.0 945.0,97.0 929.5,94.0" fill="#30a0a0"/>
<polygon points="1016.3,111.0 1030.0,110.0 1048.0,108.5 1030.0,113.2 1016.8,116.5" fill="#e06018"/>
<polygon points="942.0,54.6 1016.8,77.9 1016.3,105.0 1014.7,108.5 1010.6,110.3 1005.7,111.0 931.3,89.4 930.9,88.0 936.1,87.0 940.3,84.2 941.7,80.7" fill="url(#gInd)" stroke="#7a7a7a" stroke-width="0.8" stroke-linejoin="round"/>
<path d="M980,67.1 L979,91 Q978.5,94 975.5,95.5" fill="none" stroke="#7a7a7a" stroke-width="0.8" stroke-linejoin="round"/>
</g>
<text x="1017.1" y="1832" style="font-family:'Liberation Serif','Times New Roman',serif;font-size:33px;font-weight:bold">1.5 mm</text>
<g transform="matrix(1.00104,-0.00072,0.00388,0.99892,-1.784,1.095)">
<g transform="translate(-0.15,0.90)">
<polygon points="1556.0,70.7 1641.9,93.0 1641.9,129.8 1556.0,107.5" fill="url(#gCylG)" stroke="#808080" stroke-width="0.8" stroke-linejoin="round"/>
<line x1="1576" y1="105" x2="1577.7" y2="113" stroke="#808080" stroke-width="0.8" stroke-linejoin="round"/>
<ellipse cx="1641.9" cy="111.4" rx="16.8" ry="18.4" fill="url(#gCapG)" stroke="#808080" stroke-width="0.8" stroke-linejoin="round"/>
</g>
<polygon points="1336.1,90.0 1351.7,83.5 1442.2,104.8 1452.0,100.0 1452.0,110.0 1434.3,117.8 1431.7,139.6 1385.7,126.5 1383.9,126.1 1335.2,112.2 1358.7,92.2 1336.1,90.6" fill="#b6b6b6"/>
<polygon points="1335.2,112.2 1368.3,103.9 1383.9,126.1" fill="#b2b2b2" stroke="#8a8a8a" stroke-width="0.6" stroke-linejoin="round"/>
<polygon points="1358.7,92.2 1408.3,107.4 1383.9,126.1" fill="#a2a2a2" stroke="#8a8a8a" stroke-width="0.6" stroke-linejoin="round"/>
<polygon points="1335.2,112.2 1358.7,92.2 1368.3,103.9" fill="#6e6e6e"/>
<polygon points="1385.7,126.5 1420.4,118.7 1431.7,139.6" fill="#b4b4b4" stroke="#8a8a8a" stroke-width="0.6" stroke-linejoin="round"/>
<polygon points="1385.7,126.5 1408.3,107.4 1420.4,118.7" fill="#6a6a6a"/>
<polygon points="1336.1,90.0 1351.7,83.5 1442.2,104.8 1451.3,106.5 1434.3,117.8 1420.0,112.5 1408.3,107.4 1396.0,101.0 1385.7,104.8 1372.0,98.0 1358.7,92.2 1336.1,90.6" fill="#bcbcbc" stroke="#8a8a8a" stroke-width="0.6" stroke-linejoin="round"/>
<polygon points="1431.7,139.6 1434.3,117.8 1443.0,113.0 1452.0,106.5 1465.0,100.5 1480.0,96.5 1681.8,47.6 1698.3,73.9" fill="#a8a8a8" stroke="#808080" stroke-width="0.8" stroke-linejoin="round"/>
<polygon points="1425.7,60.0 1598.1,14.7 1696.7,42.6 1681.8,47.6 1480.0,96.5 1465.0,100.5 1452.0,106.5 1446.0,104.0 1446.0,66.0" fill="#b9b9b9" stroke="#808080" stroke-width="0.8" stroke-linejoin="round"/>
<line x1="1646.6" y1="30" x2="1452.5" y2="78.6" stroke="#707070" stroke-width="0.9"/>
<polygon points="1353.0,39.6 1451.3,66.5 1451.0,98.0 1449.0,102.0 1445.0,104.3 1440.0,105.0 1337.5,78.5 1336.5,77.0 1342.0,75.5 1348.0,73.5 1351.0,70.0" fill="url(#gIndG)" stroke="#808080" stroke-width="0.8" stroke-linejoin="round"/>
<path d="M1402.2,54.8 L1400.5,88.0 Q1400,91.0 1397,92.5" fill="none" stroke="#808080" stroke-width="0.8" stroke-linejoin="round"/>
</g>
<text x="1495.1" y="141.5" style="font-family:'Liberation Serif','Times New Roman',serif;font-size:33px;font-weight:bold">original</text>
<g transform="matrix(0.96075,-0.00841,0.01735,0.98754,64.244,154.919)">
<g transform="translate(1.07,0.48)">
<polygon points="1556.0,70.7 1641.9,93.0 1641.9,129.8 1556.0,107.5" fill="url(#gCylG)" stroke="#808080" stroke-width="0.8" stroke-linejoin="round"/>
<line x1="1576" y1="105" x2="1577.7" y2="113" stroke="#808080" stroke-width="0.8" stroke-linejoin="round"/>
<ellipse cx="1641.9" cy="111.4" rx="16.8" ry="18.4" fill="url(#gCapG)" stroke="#808080" stroke-width="0.8" stroke-linejoin="round"/>
</g>
<polygon points="1336.1,90.0 1351.7,83.5 1442.2,104.8 1452.0,100.0 1452.0,110.0 1434.3,117.8 1431.7,139.6 1385.7,126.5 1383.9,126.1 1335.2,112.2 1358.7,92.2 1336.1,90.6" fill="#b6b6b6"/>
<polygon points="1335.2,112.2 1368.3,103.9 1383.9,126.1" fill="#b2b2b2" stroke="#8a8a8a" stroke-width="0.6" stroke-linejoin="round"/>
<polygon points="1358.7,92.2 1408.3,107.4 1383.9,126.1" fill="#a2a2a2" stroke="#8a8a8a" stroke-width="0.6" stroke-linejoin="round"/>
<polygon points="1335.2,112.2 1358.7,92.2 1368.3,103.9" fill="#6e6e6e"/>
<polygon points="1385.7,126.5 1420.4,118.7 1431.7,139.6" fill="#b4b4b4" stroke="#8a8a8a" stroke-width="0.6" stroke-linejoin="round"/>
<polygon points="1385.7,126.5 1408.3,107.4 1420.4,118.7" fill="#6a6a6a"/>
<polygon points="1336.1,90.0 1351.7,83.5 1442.2,104.8 1451.3,106.5 1434.3,117.8 1420.0,112.5 1408.3,107.4 1396.0,101.0 1385.7,104.8 1372.0,98.0 1358.7,92.2 1336.1,90.6" fill="#bcbcbc" stroke="#8a8a8a" stroke-width="0.6" stroke-linejoin="round"/>
<polygon points="1431.7,139.6 1434.3,117.8 1443.0,113.0 1452.0,106.5 1465.0,100.5 1480.0,96.5 1681.8,47.6 1698.3,73.9" fill="#a8a8a8" stroke="#808080" stroke-width="0.8" stroke-linejoin="round"/>
<polygon points="1425.7,60.0 1598.1,14.7 1696.7,42.6 1681.8,47.6 1480.0,96.5 1465.0,100.5 1452.0,106.5 1446.0,104.0 1446.0,66.0" fill="#b9b9b9" stroke="#808080" stroke-width="0.8" stroke-linejoin="round"/>
<line x1="1646.6" y1="30" x2="1452.5" y2="78.6" stroke="#707070" stroke-width="0.9"/>
<polygon points="1353.0,39.6 1451.3,66.5 1451.0,98.0 1449.0,102.0 1445.0,104.3 1440.0,105.0 1337.5,78.5 1336.5,77.0 1342.0,75.5 1348.0,73.5 1351.0,70.0" fill="url(#gIndG)" stroke="#808080" stroke-width="0.8" stroke-linejoin="round"/>
<path d="M1402.2,54.8 L1400.5,88.0 Q1400,91.0 1397,92.5" fill="none" stroke="#808080" stroke-width="0.8" stroke-linejoin="round"/>
</g>
<text x="1501.5" y="283" style="font-family:'Liberation Serif','Times New Roman',serif;font-size:33px;font-weight:bold">0.5 mm</text>
<g transform="matrix(0.97834,-0.01007,0.03171,0.98167,37.551,300.075)">
<g transform="translate(1.47,0.31)">
<polygon points="1556.0,70.7 1641.9,93.0 1641.9,129.8 1556.0,107.5" fill="url(#gCylG)" stroke="#808080" stroke-width="0.8" stroke-linejoin="round"/>
<line x1="1576" y1="105" x2="1577.7" y2="113" stroke="#808080" stroke-width="0.8" stroke-linejoin="round"/>
<ellipse cx="1641.9" cy="111.4" rx="16.8" ry="18.4" fill="url(#gCapG)" stroke="#808080" stroke-width="0.8" stroke-linejoin="round"/>
</g>
<polygon points="1336.1,90.0 1351.7,83.5 1442.2,104.8 1452.0,100.0 1452.0,110.0 1434.3,117.8 1431.7,139.6 1385.7,126.5 1383.9,126.1 1335.2,112.2 1358.7,92.2 1336.1,90.6" fill="#b6b6b6"/>
<polygon points="1335.2,112.2 1368.3,103.9 1383.9,126.1" fill="#b2b2b2" stroke="#8a8a8a" stroke-width="0.6" stroke-linejoin="round"/>
<polygon points="1358.7,92.2 1408.3,107.4 1383.9,126.1" fill="#a2a2a2" stroke="#8a8a8a" stroke-width="0.6" stroke-linejoin="round"/>
<polygon points="1335.2,112.2 1358.7,92.2 1368.3,103.9" fill="#6e6e6e"/>
<polygon points="1385.7,126.5 1420.4,118.7 1431.7,139.6" fill="#b4b4b4" stroke="#8a8a8a" stroke-width="0.6" stroke-linejoin="round"/>
<polygon points="1385.7,126.5 1408.3,107.4 1420.4,118.7" fill="#6a6a6a"/>
<polygon points="1336.1,90.0 1351.7,83.5 1442.2,104.8 1451.3,106.5 1434.3,117.8 1420.0,112.5 1408.3,107.4 1396.0,101.0 1385.7,104.8 1372.0,98.0 1358.7,92.2 1336.1,90.6" fill="#bcbcbc" stroke="#8a8a8a" stroke-width="0.6" stroke-linejoin="round"/>
<polygon points="1431.7,139.6 1434.3,117.8 1443.0,113.0 1452.0,106.5 1465.0,100.5 1480.0,96.5 1681.8,47.6 1698.3,73.9" fill="#a8a8a8" stroke="#808080" stroke-width="0.8" stroke-linejoin="round"/>
<polygon points="1425.7,60.0 1598.1,14.7 1696.7,42.6 1681.8,47.6 1480.0,96.5 1465.0,100.5 1452.0,106.5 1446.0,104.0 1446.0,66.0" fill="#b9b9b9" stroke="#808080" stroke-width="0.8" stroke-linejoin="round"/>
<line x1="1646.6" y1="30" x2="1452.5" y2="78.6" stroke="#707070" stroke-width="0.9"/>
<polygon points="1353.0,39.6 1451.3,66.5 1451.0,98.0 1449.0,102.0 1445.0,104.3 1440.0,105.0 1337.5,78.5 1336.5,77.0 1342.0,75.5 1348.0,73.5 1351.0,70.0" fill="url(#gIndG)" stroke="#808080" stroke-width="0.8" stroke-linejoin="round"/>
<path d="M1402.2,54.8 L1400.5,88.0 Q1400,91.0 1397,92.5" fill="none" stroke="#808080" stroke-width="0.8" stroke-linejoin="round"/>
</g>
<text x="1496.6" y="419.7" style="font-family:'Liberation Serif','Times New Roman',serif;font-size:33px;font-weight:bold">1.0 mm</text>
<g transform="matrix(0.93945,-0.01150,0.04109,0.96448,91.061,431.402)">
<g transform="translate(0.58,0.44)">
<polygon points="1556.0,70.7 1641.9,93.0 1641.9,129.8 1556.0,107.5" fill="url(#gCylG)" stroke="#808080" stroke-width="0.8" stroke-linejoin="round"/>
<line x1="1576" y1="105" x2="1577.7" y2="113" stroke="#808080" stroke-width="0.8" stroke-linejoin="round"/>
<ellipse cx="1641.9" cy="111.4" rx="16.8" ry="18.4" fill="url(#gCapG)" stroke="#808080" stroke-width="0.8" stroke-linejoin="round"/>
</g>
<polygon points="1336.1,90.0 1351.7,83.5 1442.2,104.8 1452.0,100.0 1452.0,110.0 1434.3,117.8 1431.7,139.6 1385.7,126.5 1383.9,126.1 1335.2,112.2 1358.7,92.2 1336.1,90.6" fill="#b6b6b6"/>
<polygon points="1335.2,112.2 1368.3,103.9 1383.9,126.1" fill="#b2b2b2" stroke="#8a8a8a" stroke-width="0.6" stroke-linejoin="round"/>
<polygon points="1358.7,92.2 1408.3,107.4 1383.9,126.1" fill="#a2a2a2" stroke="#8a8a8a" stroke-width="0.6" stroke-linejoin="round"/>
<polygon points="1335.2,112.2 1358.7,92.2 1368.3,103.9" fill="#6e6e6e"/>
<polygon points="1385.7,126.5 1420.4,118.7 1431.7,139.6" fill="#b4b4b4" stroke="#8a8a8a" stroke-width="0.6" stroke-linejoin="round"/>
<polygon points="1385.7,126.5 1408.3,107.4 1420.4,118.7" fill="#6a6a6a"/>
<polygon points="1336.1,90.0 1351.7,83.5 1442.2,104.8 1451.3,106.5 1434.3,117.8 1420.0,112.5 1408.3,107.4 1396.0,101.0 1385.7,104.8 1372.0,98.0 1358.7,92.2 1336.1,90.6" fill="#bcbcbc" stroke="#8a8a8a" stroke-width="0.6" stroke-linejoin="round"/>
<polygon points="1431.7,139.6 1434.3,117.8 1443.0,113.0 1452.0,106.5 1465.0,100.5 1480.0,96.5 1681.8,47.6 1698.3,73.9" fill="#a8a8a8" stroke="#808080" stroke-width="0.8" stroke-linejoin="round"/>
<polygon points="1425.7,60.0 1598.1,14.7 1696.7,42.6 1681.8,47.6 1480.0,96.5 1465.0,100.5 1452.0,106.5 1446.0,104.0 1446.0,66.0" fill="#b9b9b9" stroke="#808080" stroke-width="0.8" stroke-linejoin="round"/>
<line x1="1646.6" y1="30" x2="1452.5" y2="78.6" stroke="#707070" stroke-width="0.9"/>
<polygon points="1353.0,39.6 1451.3,66.5 1451.0,98.0 1449.0,102.0 1445.0,104.3 1440.0,105.0 1337.5,78.5 1336.5,77.0 1342.0,75.5 1348.0,73.5 1351.0,70.0" fill="url(#gIndG)" stroke="#808080" stroke-width="0.8" stroke-linejoin="round"/>
<path d="M1402.2,54.8 L1400.5,88.0 Q1400,91.0 1397,92.5" fill="none" stroke="#808080" stroke-width="0.8" stroke-linejoin="round"/>
</g>
<text x="1501.1" y="546.8" style="font-family:'Liberation Serif','Times New Roman',serif;font-size:33px;font-weight:bold">1.5 mm</text>
<g transform="matrix(0.95433,0.00007,0.00037,1.08936,82.158,637.206)">
<g transform="translate(0.78,0.52)">
<polygon points="1556.0,70.7 1641.9,93.0 1641.9,129.8 1556.0,107.5" fill="url(#gCylG)" stroke="#808080" stroke-width="0.8" stroke-linejoin="round"/>
<line x1="1576" y1="105" x2="1577.7" y2="113" stroke="#808080" stroke-width="0.8" stroke-linejoin="round"/>
<ellipse cx="1641.9" cy="111.4" rx="16.8" ry="18.4" fill="url(#gCapG)" stroke="#808080" stroke-width="0.8" stroke-linejoin="round"/>
</g>
<polygon points="1336.1,90.0 1351.7,83.5 1442.2,104.8 1452.0,100.0 1452.0,110.0 1434.3,117.8 1431.7,139.6 1385.7,126.5 1383.9,126.1 1335.2,112.2 1358.7,92.2 1336.1,90.6" fill="#b6b6b6"/>
<polygon points="1335.2,112.2 1368.3,103.9 1383.9,126.1" fill="#b2b2b2" stroke="#8a8a8a" stroke-width="0.6" stroke-linejoin="round"/>
<polygon points="1358.7,92.2 1408.3,107.4 1383.9,126.1" fill="#a2a2a2" stroke="#8a8a8a" stroke-width="0.6" stroke-linejoin="round"/>
<polygon points="1335.2,112.2 1358.7,92.2 1368.3,103.9" fill="#6e6e6e"/>
<polygon points="1385.7,126.5 1420.4,118.7 1431.7,139.6" fill="#b4b4b4" stroke="#8a8a8a" stroke-width="0.6" stroke-linejoin="round"/>
<polygon points="1385.7,126.5 1408.3,107.4 1420.4,118.7" fill="#6a6a6a"/>
<polygon points="1336.1,90.0 1351.7,83.5 1442.2,104.8 1451.3,106.5 1434.3,117.8 1420.0,112.5 1408.3,107.4 1396.0,101.0 1385.7,104.8 1372.0,98.0 1358.7,92.2 1336.1,90.6" fill="#bcbcbc" stroke="#8a8a8a" stroke-width="0.6" stroke-linejoin="round"/>
<polygon points="1431.7,139.6 1434.3,117.8 1443.0,113.0 1452.0,106.5 1465.0,100.5 1480.0,96.5 1681.8,47.6 1698.3,73.9" fill="#a8a8a8" stroke="#808080" stroke-width="0.8" stroke-linejoin="round"/>
<polygon points="1425.7,60.0 1598.1,14.7 1696.7,42.6 1681.8,47.6 1480.0,96.5 1465.0,100.5 1452.0,106.5 1446.0,104.0 1446.0,66.0" fill="#b9b9b9" stroke="#808080" stroke-width="0.8" stroke-linejoin="round"/>
<line x1="1646.6" y1="30" x2="1452.5" y2="78.6" stroke="#707070" stroke-width="0.9"/>
<polygon points="1353.0,39.6 1451.3,66.5 1451.0,98.0 1449.0,102.0 1445.0,104.3 1440.0,105.0 1337.5,78.5 1336.5,77.0 1342.0,75.5 1348.0,73.5 1351.0,70.0" fill="url(#gIndG)" stroke="#808080" stroke-width="0.8" stroke-linejoin="round"/>
<path d="M1402.2,54.8 L1400.5,88.0 Q1400,91.0 1397,92.5" fill="none" stroke="#808080" stroke-width="0.8" stroke-linejoin="round"/>
</g>
<text x="1504.1" y="776.7" style="font-family:'Liberation Serif','Times New Roman',serif;font-size:33px;font-weight:bold">original</text>
<g transform="matrix(0.92636,-0.00881,-0.00988,1.03968,130.091,798.292)">
<g transform="translate(-0.88,0.26)">
<polygon points="1556.0,70.7 1641.9,93.0 1641.9,129.8 1556.0,107.5" fill="url(#gCylG)" stroke="#808080" stroke-width="0.8" stroke-linejoin="round"/>
<line x1="1576" y1="105" x2="1577.7" y2="113" stroke="#808080" stroke-width="0.8" stroke-linejoin="round"/>
<ellipse cx="1641.9" cy="111.4" rx="16.8" ry="18.4" fill="url(#gCapG)" stroke="#808080" stroke-width="0.8" stroke-linejoin="round"/>
</g>
<polygon points="1336.1,90.0 1351.7,83.5 1442.2,104.8 1452.0,100.0 1452.0,110.0 1434.3,117.8 1431.7,139.6 1385.7,126.5 1383.9,126.1 1335.2,112.2 1358.7,92.2 1336.1,90.6" fill="#b6b6b6"/>
<polygon points="1335.2,112.2 1368.3,103.9 1383.9,126.1" fill="#b2b2b2" stroke="#8a8a8a" stroke-width="0.6" stroke-linejoin="round"/>
<polygon points="1358.7,92.2 1408.3,107.4 1383.9,126.1" fill="#a2a2a2" stroke="#8a8a8a" stroke-width="0.6" stroke-linejoin="round"/>
<polygon points="1335.2,112.2 1358.7,92.2 1368.3,103.9" fill="#6e6e6e"/>
<polygon points="1385.7,126.5 1420.4,118.7 1431.7,139.6" fill="#b4b4b4" stroke="#8a8a8a" stroke-width="0.6" stroke-linejoin="round"/>
<polygon points="1385.7,126.5 1408.3,107.4 1420.4,118.7" fill="#6a6a6a"/>
<polygon points="1336.1,90.0 1351.7,83.5 1442.2,104.8 1451.3,106.5 1434.3,117.8 1420.0,112.5 1408.3,107.4 1396.0,101.0 1385.7,104.8 1372.0,98.0 1358.7,92.2 1336.1,90.6" fill="#bcbcbc" stroke="#8a8a8a" stroke-width="0.6" stroke-linejoin="round"/>
<polygon points="1431.7,139.6 1434.3,117.8 1443.0,113.0 1452.0,106.5 1465.0,100.5 1480.0,96.5 1681.8,47.6 1698.3,73.9" fill="#a8a8a8" stroke="#808080" stroke-width="0.8" stroke-linejoin="round"/>
<polygon points="1425.7,60.0 1598.1,14.7 1696.7,42.6 1681.8,47.6 1480.0,96.5 1465.0,100.5 1452.0,106.5 1446.0,104.0 1446.0,66.0" fill="#b9b9b9" stroke="#808080" stroke-width="0.8" stroke-linejoin="round"/>
<line x1="1646.6" y1="30" x2="1452.5" y2="78.6" stroke="#707070" stroke-width="0.9"/>
<polygon points="1353.0,39.6 1451.3,66.5 1451.0,98.0 1449.0,102.0 1445.0,104.3 1440.0,105.0 1337.5,78.5 1336.5,77.0 1342.0,75.5 1348.0,73.5 1351.0,70.0" fill="url(#gIndG)" stroke="#808080" stroke-width="0.8" stroke-linejoin="round"/>
<path d="M1402.2,54.8 L1400.5,88.0 Q1400,91.0 1397,92.5" fill="none" stroke="#808080" stroke-width="0.8" stroke-linejoin="round"/>
</g>
<text x="1509.5" y="932.7" style="font-family:'Liberation Serif','Times New Roman',serif;font-size:33px;font-weight:bold">0.5 mm</text>
<g transform="matrix(0.97092,0.00502,0.02051,1.01630,65.807,912.708)">
<g transform="translate(-1.95,3.03)">
<polygon points="1556.0,70.7 1641.9,93.0 1641.9,129.8 1556.0,107.5" fill="url(#gCylG)" stroke="#808080" stroke-width="0.8" stroke-linejoin="round"/>
<line x1="1576" y1="105" x2="1577.7" y2="113" stroke="#808080" stroke-width="0.8" stroke-linejoin="round"/>
<ellipse cx="1641.9" cy="111.4" rx="16.8" ry="18.4" fill="url(#gCapG)" stroke="#808080" stroke-width="0.8" stroke-linejoin="round"/>
</g>
<polygon points="1336.1,90.0 1351.7,83.5 1442.2,104.8 1452.0,100.0 1452.0,110.0 1434.3,117.8 1431.7,139.6 1385.7,126.5 1383.9,126.1 1335.2,112.2 1358.7,92.2 1336.1,90.6" fill="#b6b6b6"/>
<polygon points="1335.2,112.2 1368.3,103.9 1383.9,126.1" fill="#b2b2b2" stroke="#8a8a8a" stroke-width="0.6" stroke-linejoin="round"/>
<polygon points="1358.7,92.2 1408.3,107.4 1383.9,126.1" fill="#a2a2a2" stroke="#8a8a8a" stroke-width="0.6" stroke-linejoin="round"/>
<polygon points="1335.2,112.2 1358.7,92.2 1368.3,103.9" fill="#6e6e6e"/>
<polygon points="1385.7,126.5 1420.4,118.7 1431.7,139.6" fill="#b4b4b4" stroke="#8a8a8a" stroke-width="0.6" stroke-linejoin="round"/>
<polygon points="1385.7,126.5 1408.3,107.4 1420.4,118.7" fill="#6a6a6a"/>
<polygon points="1336.1,92.5 1351.7,86.5 1442.2,109.8 1451.3,109.5 1434.3,117.8 1420.0,114.0 1408.3,109.4 1396.0,104.0 1385.7,107.3 1372.0,101.0 1358.7,95.2 1336.1,93.1" fill="#bcbcbc" stroke="#8a8a8a" stroke-width="0.6" stroke-linejoin="round"/>
<polygon points="1431.7,139.6 1434.3,117.8 1443.0,113.0 1452.0,106.5 1465.0,100.5 1480.0,96.5 1681.8,47.6 1698.3,73.9" fill="#a8a8a8" stroke="#808080" stroke-width="0.8" stroke-linejoin="round"/>
<polygon points="1417.7,58.3 1598.1,14.7 1696.7,42.6 1681.8,47.6 1480.0,96.5 1465.0,100.5 1452.0,106.5 1446.0,104.0 1446.0,66.0" fill="#b9b9b9" stroke="#808080" stroke-width="0.8" stroke-linejoin="round"/>
<line x1="1646.6" y1="30" x2="1452.5" y2="78.6" stroke="#707070" stroke-width="0.9"/>
<polygon points="1353.0,39.6 1451.3,66.5 1451.0,103.0 1449.0,107.0 1445.0,109.3 1440.0,110.0 1337.5,81.5 1336.5,80.0 1342.0,78.5 1348.0,76.5 1351.0,73.0" fill="url(#gIndG)" stroke="#808080" stroke-width="0.8" stroke-linejoin="round"/>
<path d="M1402.2,54.8 L1400.5,92.0 Q1400,95.0 1397,96.5" fill="none" stroke="#808080" stroke-width="0.8" stroke-linejoin="round"/>
</g>
<text x="1518.1999999999998" y="1063.9" style="font-family:'Liberation Serif','Times New Roman',serif;font-size:33px;font-weight:bold">1.0 mm</text>
<g transform="matrix(0.98849,0.01549,0.01013,0.97304,41.583,1034.553)">
<g transform="translate(-1.51,3.82)">
<polygon points="1556.0,70.7 1641.9,93.0 1641.9,129.8 1556.0,107.5" fill="url(#gCylG)" stroke="#808080" stroke-width="0.8" stroke-linejoin="round"/>
<line x1="1576" y1="105" x2="1577.7" y2="113" stroke="#808080" stroke-width="0.8" stroke-linejoin="round"/>
<ellipse cx="1641.9" cy="111.4" rx="16.8" ry="18.4" fill="url(#gCapG)" stroke="#808080" stroke-width="0.8" stroke-linejoin="round"/>
</g>
<polygon points="1336.1,90.0 1351.7,83.5 1442.2,104.8 1452.0,100.0 1452.0,110.0 1434.3,117.8 1431.7,139.6 1385.7,126.5 1383.9,126.1 1335.2,112.2 1358.7,92.2 1336.1,90.6" fill="#b6b6b6"/>
<polygon points="1335.2,112.2 1368.3,103.9 1383.9,126.1" fill="#b2b2b2" stroke="#8a8a8a" stroke-width="0.6" stroke-linejoin="round"/>
<polygon points="1358.7,92.2 1408.3,107.4 1383.9,126.1" fill="#a2a2a2" stroke="#8a8a8a" stroke-width="0.6" stroke-linejoin="round"/>
<polygon points="1335.2,112.2 1358.7,92.2 1368.3,103.9" fill="#6e6e6e"/>
<polygon points="1385.7,126.5 1420.4,118.7 1431.7,139.6" fill="#b4b4b4" stroke="#8a8a8a" stroke-width="0.6" stroke-linejoin="round"/>
<polygon points="1385.7,126.5 1408.3,107.4 1420.4,118.7" fill="#6a6a6a"/>
<polygon points="1336.1,94.0 1351.7,88.3 1442.2,112.8 1451.3,111.3 1434.3,117.8 1420.0,114.9 1408.3,110.6 1396.0,105.8 1385.7,108.8 1372.0,102.8 1358.7,97.0 1336.1,94.6" fill="#bcbcbc" stroke="#8a8a8a" stroke-width="0.6" stroke-linejoin="round"/>
<polygon points="1431.7,139.6 1434.3,117.8 1443.0,113.0 1452.0,106.5 1465.0,100.5 1480.0,96.5 1681.8,47.6 1698.3,73.9" fill="#a8a8a8" stroke="#808080" stroke-width="0.8" stroke-linejoin="round"/>
<polygon points="1412.9,57.3 1598.1,14.7 1696.7,42.6 1681.8,47.6 1480.0,96.5 1465.0,100.5 1452.0,106.5 1446.0,104.0 1446.0,66.0" fill="#b9b9b9" stroke="#808080" stroke-width="0.8" stroke-linejoin="round"/>
<line x1="1646.6" y1="30" x2="1452.5" y2="78.6" stroke="#707070" stroke-width="0.9"/>
<polygon points="1353.0,39.6 1451.3,66.5 1451.0,106.0 1449.0,110.0 1445.0,112.3 1440.0,113.0 1337.5,83.3 1336.5,81.8 1342.0,80.3 1348.0,78.3 1351.0,74.8" fill="url(#gIndG)" stroke="#808080" stroke-width="0.8" stroke-linejoin="round"/>
<path d="M1402.2,54.8 L1400.5,94.4 Q1400,97.4 1397,98.9" fill="none" stroke="#808080" stroke-width="0.8" stroke-linejoin="round"/>
</g>
<text x="1515.0" y="1201.3" style="font-family:'Liberation Serif','Times New Roman',serif;font-size:33px;font-weight:bold">1.5 mm</text>
<g transform="matrix(0.95585,0.00073,0.00582,1.06707,76.838,1269.561)">
<g transform="translate(-0.60,-0.03)">
<polygon points="1556.0,70.7 1641.9,93.0 1641.9,129.8 1556.0,107.5" fill="url(#gCylG)" stroke="#808080" stroke-width="0.8" stroke-linejoin="round"/>
<line x1="1576" y1="105" x2="1577.7" y2="113" stroke="#808080" stroke-width="0.8" stroke-linejoin="round"/>
<ellipse cx="1641.9" cy="111.4" rx="16.8" ry="18.4" fill="url(#gCapG)" stroke="#808080" stroke-width="0.8" stroke-linejoin="round"/>
</g>
<polygon points="1336.1,90.0 1351.7,83.5 1442.2,104.8 1452.0,100.0 1452.0,110.0 1434.3,117.8 1431.7,139.6 1385.7,126.5 1383.9,126.1 1335.2,112.2 1358.7,92.2 1336.1,90.6" fill="#b6b6b6"/>
<polygon points="1335.2,112.2 1368.3,103.9 1383.9,126.1" fill="#b2b2b2" stroke="#8a8a8a" stroke-width="0.6" stroke-linejoin="round"/>
<polygon points="1358.7,92.2 1408.3,107.4 1383.9,126.1" fill="#a2a2a2" stroke="#8a8a8a" stroke-width="0.6" stroke-linejoin="round"/>
<polygon points="1335.2,112.2 1358.7,92.2 1368.3,103.9" fill="#6e6e6e"/>
<polygon points="1385.7,126.5 1420.4,118.7 1431.7,139.6" fill="#b4b4b4" stroke="#8a8a8a" stroke-width="0.6" stroke-linejoin="round"/>
<polygon points="1385.7,126.5 1408.3,107.4 1420.4,118.7" fill="#6a6a6a"/>
<polygon points="1336.1,90.0 1351.7,83.5 1442.2,104.8 1451.3,106.5 1434.3,117.8 1420.0,112.5 1408.3,107.4 1396.0,101.0 1385.7,104.8 1372.0,98.0 1358.7,92.2 1336.1,90.6" fill="#bcbcbc" stroke="#8a8a8a" stroke-width="0.6" stroke-linejoin="round"/>
<polygon points="1431.7,139.6 1434.3,117.8 1443.0,113.0 1452.0,106.5 1465.0,100.5 1480.0,96.5 1681.8,47.6 1698.3,73.9" fill="#a8a8a8" stroke="#808080" stroke-width="0.8" stroke-linejoin="round"/>
<polygon points="1425.7,60.0 1598.1,14.7 1696.7,42.6 1681.8,47.6 1480.0,96.5 1465.0,100.5 1452.0,106.5 1446.0,104.0 1446.0,66.0" fill="#b9b9b9" stroke="#808080" stroke-width="0.8" stroke-linejoin="round"/>
<line x1="1646.6" y1="30" x2="1452.5" y2="78.6" stroke="#707070" stroke-width="0.9"/>
<polygon points="1353.0,39.6 1451.3,66.5 1451.0,98.0 1449.0,102.0 1445.0,104.3 1440.0,105.0 1337.5,78.5 1336.5,77.0 1342.0,75.5 1348.0,73.5 1351.0,70.0" fill="url(#gIndG)" stroke="#808080" stroke-width="0.8" stroke-linejoin="round"/>
<path d="M1402.2,54.8 L1400.5,88.0 Q1400,91.0 1397,92.5" fill="none" stroke="#808080" stroke-width="0.8" stroke-linejoin="round"/>
</g>
<text x="1496.3999999999999" y="1416.4" style="font-family:'Liberation Serif','Times New Roman',serif;font-size:33px;font-weight:bold">original</text>
<g transform="matrix(0.94343,-0.00318,0.01369,1.00538,93.412,1417.299)">
<g transform="translate(-0.55,1.03)">
<polygon points="1556.0,70.7 1641.9,93.0 1641.9,129.8 1556.0,107.5" fill="url(#gCylG)" stroke="#808080" stroke-width="0.8" stroke-linejoin="round"/>
<line x1="1576" y1="105" x2="1577.7" y2="113" stroke="#808080" stroke-width="0.8" stroke-linejoin="round"/>
<ellipse cx="1641.9" cy="111.4" rx="16.8" ry="18.4" fill="url(#gCapG)" stroke="#808080" stroke-width="0.8" stroke-linejoin="round"/>
</g>
<polygon points="1336.1,90.0 1351.7,83.5 1442.2,104.8 1452.0,100.0 1452.0,110.0 1434.3,117.8 1431.7,139.6 1385.7,126.5 1383.9,126.1 1335.2,112.2 1358.7,92.2 1336.1,90.6" fill="#b6b6b6"/>
<polygon points="1335.2,112.2 1368.3,103.9 1383.9,126.1" fill="#b2b2b2" stroke="#8a8a8a" stroke-width="0.6" stroke-linejoin="round"/>
<polygon points="1358.7,92.2 1408.3,107.4 1383.9,126.1" fill="#a2a2a2" stroke="#8a8a8a" stroke-width="0.6" stroke-linejoin="round"/>
<polygon points="1335.2,112.2 1358.7,92.2 1368.3,103.9" fill="#6e6e6e"/>
<polygon points="1385.7,126.5 1420.4,118.7 1431.7,139.6" fill="#b4b4b4" stroke="#8a8a8a" stroke-width="0.6" stroke-linejoin="round"/>
<polygon points="1385.7,126.5 1408.3,107.4 1420.4,118.7" fill="#6a6a6a"/>
<polygon points="1336.1,90.0 1351.7,83.5 1442.2,104.8 1451.3,106.5 1434.3,117.8 1420.0,112.5 1408.3,107.4 1396.0,101.0 1385.7,104.8 1372.0,98.0 1358.7,92.2 1336.1,90.6" fill="#bcbcbc" stroke="#8a8a8a" stroke-width="0.6" stroke-linejoin="round"/>
<polygon points="1431.7,139.6 1434.3,117.8 1443.0,113.0 1452.0,106.5 1465.0,100.5 1480.0,96.5 1681.8,47.6 1698.3,73.9" fill="#a8a8a8" stroke="#808080" stroke-width="0.8" stroke-linejoin="round"/>
<polygon points="1425.7,60.0 1598.1,14.7 1696.7,42.6 1681.8,47.6 1480.0,96.5 1465.0,100.5 1452.0,106.5 1446.0,104.0 1446.0,66.0" fill="#b9b9b9" stroke="#808080" stroke-width="0.8" stroke-linejoin="round"/>
<line x1="1646.6" y1="30" x2="1452.5" y2="78.6" stroke="#707070" stroke-width="0.9"/>
<polygon points="1353.0,39.6 1451.3,66.5 1451.0,98.0 1449.0,102.0 1445.0,104.3 1440.0,105.0 1337.5,78.5 1336.5,77.0 1342.0,75.5 1348.0,73.5 1351.0,70.0" fill="url(#gIndG)" stroke="#808080" stroke-width="0.8" stroke-linejoin="round"/>
<path d="M1402.2,54.8 L1400.5,88.0 Q1400,91.0 1397,92.5" fill="none" stroke="#808080" stroke-width="0.8" stroke-linejoin="round"/>
</g>
<text x="1507.6999999999998" y="1560.7" style="font-family:'Liberation Serif','Times New Roman',serif;font-size:33px;font-weight:bold">0.5 mm</text>
<g transform="matrix(0.98365,-0.00394,0.01696,1.00374,28.296,1560.030)">
<g transform="translate(1.16,2.43)">
<polygon points="1556.0,70.7 1641.9,93.0 1641.9,129.8 1556.0,107.5" fill="url(#gCylG)" stroke="#808080" stroke-width="0.8" stroke-linejoin="round"/>
<line x1="1576" y1="105" x2="1577.7" y2="113" stroke="#808080" stroke-width="0.8" stroke-linejoin="round"/>
<ellipse cx="1641.9" cy="111.4" rx="16.8" ry="18.4" fill="url(#gCapG)" stroke="#808080" stroke-width="0.8" stroke-linejoin="round"/>
</g>
<polygon points="1336.1,90.0 1351.7,83.5 1442.2,104.8 1452.0,100.0 1452.0,110.0 1434.3,117.8 1431.7,139.6 1385.7,126.5 1383.9,126.1 1335.2,112.2 1358.7,92.2 1336.1,90.6" fill="#b6b6b6"/>
<polygon points="1335.2,112.2 1368.3,103.9 1383.9,126.1" fill="#b2b2b2" stroke="#8a8a8a" stroke-width="0.6" stroke-linejoin="round"/>
<polygon points="1358.7,92.2 1408.3,107.4 1383.9,126.1" fill="#a2a2a2" stroke="#8a8a8a" stroke-width="0.6" stroke-linejoin="round"/>
<polygon points="1335.2,112.2 1358.7,92.2 1368.3,103.9" fill="#6e6e6e"/>
<polygon points="1385.7,126.5 1420.4,118.7 1431.7,139.6" fill="#b4b4b4" stroke="#8a8a8a" stroke-width="0.6" stroke-linejoin="round"/>
<polygon points="1385.7,126.5 1408.3,107.4 1420.4,118.7" fill="#6a6a6a"/>
<polygon points="1336.1,92.5 1351.7,86.5 1442.2,109.8 1451.3,109.5 1434.3,117.8 1420.0,114.0 1408.3,109.4 1396.0,104.0 1385.7,107.3 1372.0,101.0 1358.7,95.2 1336.1,93.1" fill="#bcbcbc" stroke="#8a8a8a" stroke-width="0.6" stroke-linejoin="round"/>
<polygon points="1431.7,139.6 1434.3,117.8 1443.0,113.0 1452.0,106.5 1465.0,100.5 1480.0,96.5 1681.8,47.6 1698.3,73.9" fill="#a8a8a8" stroke="#808080" stroke-width="0.8" stroke-linejoin="round"/>
<polygon points="1417.7,58.3 1598.1,14.7 1696.7,42.6 1681.8,47.6 1480.0,96.5 1465.0,100.5 1452.0,106.5 1446.0,104.0 1446.0,66.0" fill="#b9b9b9" stroke="#808080" stroke-width="0.8" stroke-linejoin="round"/>
<line x1="1646.6" y1="30" x2="1452.5" y2="78.6" stroke="#707070" stroke-width="0.9"/>
<polygon points="1353.0,39.6 1451.3,66.5 1451.0,103.0 1449.0,107.0 1445.0,109.3 1440.0,110.0 1337.5,81.5 1336.5,80.0 1342.0,78.5 1348.0,76.5 1351.0,73.0" fill="url(#gIndG)" stroke="#808080" stroke-width="0.8" stroke-linejoin="round"/>
<path d="M1402.2,54.8 L1400.5,92.0 Q1400,95.0 1397,96.5" fill="none" stroke="#808080" stroke-width="0.8" stroke-linejoin="round"/>
</g>
<text x="1507.6999999999998" y="1698.6" style="font-family:'Liberation Serif','Times New Roman',serif;font-size:33px;font-weight:bold">1.0 mm</text>
<g transform="matrix(1.02426,0.00039,0.01353,1.00742,-37.022,1688.582)">
<g transform="translate(-2.02,2.96)">
<polygon points="1556.0,70.7 1641.9,93.0 1641.9,129.8 1556.0,107.5" fill="url(#gCylG)" stroke="#808080" stroke-width="0.8" stroke-linejoin="round"/>
<line x1="1576" y1="105" x2="1577.7" y2="113" stroke="#808080" stroke-width="0.8" stroke-linejoin="round"/>
<ellipse cx="1641.9" cy="111.4" rx="16.8" ry="18.4" fill="url(#gCapG)" stroke="#808080" stroke-width="0.8" stroke-linejoin="round"/>
</g>
<polygon points="1336.1,90.0 1351.7,83.5 1442.2,104.8 1452.0,100.0 1452.0,110.0 1434.3,117.8 1431.7,139.6 1385.7,126.5 1383.9,126.1 1335.2,112.2 1358.7,92.2 1336.1,90.6" fill="#b6b6b6"/>
<polygon points="1335.2,112.2 1368.3,103.9 1383.9,126.1" fill="#b2b2b2" stroke="#8a8a8a" stroke-width="0.6" stroke-linejoin="round"/>
<polygon points="1358.7,92.2 1408.3,107.4 1383.9,126.1" fill="#a2a2a2" stroke="#8a8a8a" stroke-width="0.6" stroke-linejoin="round"/>
<polygon points="1335.2,112.2 1358.7,92.2 1368.3,103.9" fill="#6e6e6e"/>
<polygon points="1385.7,126.5 1420.4,118.7 1431.7,139.6" fill="#b4b4b4" stroke="#8a8a8a" stroke-width="0.6" stroke-linejoin="round"/>
<polygon points="1385.7,126.5 1408.3,107.4 1420.4,118.7" fill="#6a6a6a"/>
<polygon points="1336.1,95.0 1351.7,89.5 1442.2,114.8 1451.3,112.5 1434.3,117.8 1420.0,115.5 1408.3,111.4 1396.0,107.0 1385.7,109.8 1372.0,104.0 1358.7,98.2 1336.1,95.6" fill="#bcbcbc" stroke="#8a8a8a" stroke-width="0.6" stroke-linejoin="round"/>
<polygon points="1431.7,139.6 1434.3,117.8 1443.0,113.0 1452.0,106.5 1465.0,100.5 1480.0,96.5 1681.8,47.6 1698.3,73.9" fill="#a8a8a8" stroke="#808080" stroke-width="0.8" stroke-linejoin="round"/>
<polygon points="1409.7,56.6 1598.1,14.7 1696.7,42.6 1681.8,47.6 1480.0,96.5 1465.0,100.5 1452.0,106.5 1446.0,104.0 1446.0,66.0" fill="#b9b9b9" stroke="#808080" stroke-width="0.8" stroke-linejoin="round"/>
<line x1="1646.6" y1="30" x2="1452.5" y2="78.6" stroke="#707070" stroke-width="0.9"/>
<polygon points="1353.0,39.6 1451.3,66.5 1451.0,108.0 1449.0,112.0 1445.0,114.3 1440.0,115.0 1337.5,84.5 1336.5,83.0 1342.0,81.5 1348.0,79.5 1351.0,76.0" fill="url(#gIndG)" stroke="#808080" stroke-width="0.8" stroke-linejoin="round"/>
<path d="M1402.2,54.8 L1400.5,96.0 Q1400,99.0 1397,100.5" fill="none" stroke="#808080" stroke-width="0.8" stroke-linejoin="round"/>
</g>
<text x="1508.8999999999999" y="1835" style="font-family:'Liberation Serif','Times New Roman',serif;font-size:33px;font-weight:bold">1.5 mm</text>
<g transform="translate(0,0)">
<path d="M152.1,472.1 L158.1,447.7 L179.2,342.6 L186.3,308.9 L199.4,262.0 L210.7,218.8 L219.1,196.3 L227.6,182.2 L237.3,174.7 L244.4,177.5 L252.0,170.0 L261.3,171.9 L268.8,166.3 L280.1,170.0 L287.6,164.4 L295.1,162.5 L302.6,159.7 L310.1,158.8 L318.6,164.4 L330.8,168.1 L340.1,163.5 L351.4,171.0 L360.8,170.0 L372.0,174.7 L379.5,172.8 L388.9,171.9 L400.2,177.5 L414.6,179.4 L427.4,177.4 L436.1,181.7 L441.3,192.2 L448.3,233.9 L453.5,237.4 L457.8,216.5 L463.9,223.5 L468.3,242.6 L473.5,230.4 L477.8,189.6 L483.9,195.7 L487.4,220.0 L491.7,227.0 L497.0,220.9 L503.9,233.9 L510.0,239.1 L517.8,240.9 L523.0,235.7 L529.1,207.8 L533.5,211.3 L541.3,251.3 L549.1,239.1 L557.8,254.8 L561.3,246.1 L568.3,234.8 L571.7,236.5 L577.8,229.6 L583.9,251.3 L591.7,244.3 L597.8,244.3 L603.9,220.0 L608.3,216.5 L617.0,230.4 L622.2,227.0 L627.4,220.9 L632.6,216.5 L636.1,209.6 L639.6,210.4 L641.3,225.2 L647.4,225.2 L657.0,220.9 L660.4,239.1 L667.4,226.1 L670.9,243.5 L676.1,236.5 L683.9,236.5" fill="none" stroke="#000000" stroke-width="4" stroke-linejoin="round" stroke-linecap="round"/>
<rect x="144.1" y="464.1" width="16.0" height="16.0" fill="#000000"/>
<rect x="148.3" y="444.4" width="16.0" height="16.0" fill="#000000"/>
<rect x="171.2" y="334.6" width="16.0" height="16.0" fill="#000000"/>
<rect x="229.3" y="166.7" width="16.0" height="16.0" fill="#000000"/>
<rect x="310.6" y="156.4" width="16.0" height="16.0" fill="#000000"/>
<rect x="406.6" y="171.4" width="16.0" height="16.0" fill="#000000"/>
<rect x="502.0" y="231.1" width="16.0" height="16.0" fill="#000000"/>
<rect x="583.7" y="236.3" width="16.0" height="16.0" fill="#000000"/>
<rect x="639.4" y="217.2" width="16.0" height="16.0" fill="#000000"/>
<rect x="669.0" y="228.5" width="16.0" height="16.0" fill="#000000"/>
<path d="M152.1,472.1 L154.4,451.4 L179.7,355.8 L195.7,299.5 L212.6,248.8 L223.8,222.6 L237.3,223.5 L246.3,228.2 L252.0,220.7 L259.5,220.7 L263.2,218.8 L270.7,216.9 L280.1,222.6 L283.8,231.0 L298.9,230.1 L308.2,243.2 L318.6,242.3 L327.0,246.9 L336.4,244.1 L342.0,249.8 L351.4,242.3 L361.7,256.3 L368.3,244.1 L375.8,248.8 L381.4,248.8 L390.8,236.6 L400.2,242.3 L414.6,239.4 L427.4,233.9 L443.0,244.3 L451.7,240.0 L458.7,240.9 L465.7,246.1 L476.1,241.7 L483.0,246.1 L490.9,253.0 L502.2,247.0 L510.0,253.0 L521.3,254.8 L531.7,260.9 L542.2,254.8 L550.9,263.5 L557.8,258.3 L570.0,258.3 L583.9,252.2 L591.7,253.9 L604.8,256.5 L611.7,255.7 L618.7,260.0 L623.9,258.3 L636.1,261.7 L647.4,263.5 L660.4,267.8 L677.0,269.6" fill="none" stroke="#ff0000" stroke-width="4" stroke-linejoin="round" stroke-linecap="round"/>
<circle cx="152.1" cy="472.1" r="8.8" fill="#ff0000"/>
<circle cx="154.4" cy="451.4" r="8.8" fill="#ff0000"/>
<circle cx="179.7" cy="355.8" r="8.8" fill="#ff0000"/>
<circle cx="237.3" cy="223.5" r="8.8" fill="#ff0000"/>
<circle cx="318.6" cy="242.3" r="8.8" fill="#ff0000"/>
<circle cx="414.6" cy="239.4" r="8.8" fill="#ff0000"/>
<circle cx="510.0" cy="253.0" r="8.8" fill="#ff0000"/>
<circle cx="591.7" cy="253.9" r="8.8" fill="#ff0000"/>
<circle cx="647.4" cy="263.5" r="8.8" fill="#ff0000"/>
<circle cx="677.0" cy="269.6" r="8.8" fill="#ff0000"/>
<path d="M152.1,472.1 L156.3,457.1 L182.5,368.9 L195.7,327.6 L208.8,290.1 L217.2,269.5 L227.6,278.8 L237.3,271.3 L248.2,264.8 L257.6,273.2 L265.1,280.7 L270.7,277.0 L283.8,280.7 L291.4,286.3 L298.9,293.8 L310.1,288.2 L318.6,293.8 L328.9,295.7 L337.3,303.2 L353.3,294.8 L364.5,297.6 L373.9,301.4 L390.8,307.9 L400.2,301.4 L414.6,305.1 L427.4,307.0 L443.0,310.4 L453.5,307.8 L467.4,312.2 L476.1,309.6 L488.3,312.2 L497.0,310.4 L510.0,312.2 L523.0,313.9 L540.4,315.7 L554.3,318.3 L559.6,315.7 L571.7,318.3 L580.4,311.3 L591.7,308.7 L603.0,311.3 L610.0,307.8 L618.7,309.6 L626.5,308.7 L630.9,312.2 L637.8,307.0 L647.4,308.7 L655.2,307.0 L662.2,311.3 L672.6,307.8 L678.7,308.7" fill="none" stroke="#00ff00" stroke-width="4" stroke-linejoin="round" stroke-linecap="round"/>
<polygon points="152.1,461.6 162.8,479.6 141.4,479.6" fill="#00ff00"/>
<polygon points="156.3,446.6 167.0,464.6 145.6,464.6" fill="#00ff00"/>
<polygon points="182.5,358.4 193.2,376.4 171.8,376.4" fill="#00ff00"/>
<polygon points="237.3,260.8 248.0,278.8 226.6,278.8" fill="#00ff00"/>
<polygon points="318.6,283.3 329.3,301.3 307.9,301.3" fill="#00ff00"/>
<polygon points="414.6,295.5 425.3,313.5 403.9,313.5" fill="#00ff00"/>
<polygon points="510.0,301.7 520.7,319.7 499.3,319.7" fill="#00ff00"/>
<polygon points="591.7,298.2 602.4,316.2 581.0,316.2" fill="#00ff00"/>
<polygon points="647.4,298.2 658.1,316.2 636.7,316.2" fill="#00ff00"/>
<polygon points="676.1,297.3 686.8,315.3 665.4,315.3" fill="#00ff00"/>
<path d="M152.1,472.1 L156.3,458.9 L173.2,412.0 L181.6,382.0 L188.2,365.1 L199.4,337.0 L209.7,317.3 L216.3,325.7 L227.6,327.6 L237.3,335.1 L252.0,341.7 L261.3,339.8 L272.6,345.4 L285.7,346.4 L298.9,344.5 L306.4,343.6 L318.6,352.0 L328.9,346.4 L338.3,343.6 L355.1,352.9 L372.0,345.4 L388.9,351.1 L398.3,348.3 L414.6,349.2 L427.4,350.4 L444.8,347.0 L455.2,352.2 L463.9,348.7 L474.3,347.8 L483.0,351.3 L497.0,349.6 L510.0,350.4 L523.0,350.4 L537.0,347.8 L547.4,351.3 L557.8,347.8 L568.3,351.3 L580.4,347.8 L591.7,348.7 L601.3,347.8 L612.6,341.7 L620.4,346.1 L627.4,340.9 L632.6,345.2 L639.6,340.0 L647.4,343.5 L658.7,339.1 L663.9,344.3 L670.9,338.3 L677.0,341.7 L681.3,344.3" fill="none" stroke="#0000ff" stroke-width="4" stroke-linejoin="round" stroke-linecap="round"/>
<polygon points="152.1,482.6 162.8,464.6 141.4,464.6" fill="#0000ff"/>
<polygon points="156.3,469.4 167.0,451.4 145.6,451.4" fill="#0000ff"/>
<polygon points="181.6,392.5 192.3,374.5 170.9,374.5" fill="#0000ff"/>
<polygon points="237.3,345.6 248.0,327.6 226.6,327.6" fill="#0000ff"/>
<polygon points="318.6,361.6 329.3,343.6 307.9,343.6" fill="#0000ff"/>
<polygon points="414.6,358.8 425.3,340.8 403.9,340.8" fill="#0000ff"/>
<polygon points="510.0,360.9 520.7,342.9 499.3,342.9" fill="#0000ff"/>
<polygon points="591.7,359.2 602.4,341.2 581.0,341.2" fill="#0000ff"/>
<polygon points="647.4,356.6 658.1,338.6 636.7,338.6" fill="#0000ff"/>
<polygon points="677.0,356.6 687.7,338.6 666.3,338.6" fill="#0000ff"/>
<rect x="121.3" y="15.3" width="587.0" height="475.0" fill="none" stroke="#000" stroke-width="4"/>
<path d="M133.4,490.3 V483.8 M152.0,490.3 V478.3 M170.6,490.3 V483.8 M189.1,490.3 V483.8 M207.7,490.3 V483.8 M226.2,490.3 V483.8 M244.8,490.3 V478.3 M263.3,490.3 V483.8 M281.9,490.3 V483.8 M300.5,490.3 V483.8 M319.0,490.3 V483.8 M337.6,490.3 V478.3 M356.1,490.3 V483.8 M374.7,490.3 V483.8 M393.3,490.3 V483.8 M411.8,490.3 V483.8 M430.4,490.3 V478.3 M448.9,490.3 V483.8 M467.5,490.3 V483.8 M486.0,490.3 V483.8 M504.6,490.3 V483.8 M523.2,490.3 V478.3 M541.7,490.3 V483.8 M560.3,490.3 V483.8 M578.8,490.3 V483.8 M597.4,490.3 V483.8 M616.0,490.3 V478.3 M634.5,490.3 V483.8 M653.1,490.3 V483.8 M671.6,490.3 V483.8 M690.2,490.3 V483.8 M121.3,471.9 H133.8 M121.3,453.6 H128.8 M121.3,435.3 H128.8 M121.3,417.1 H128.8 M121.3,398.8 H128.8 M121.3,380.5 H133.8 M121.3,362.2 H128.8 M121.3,343.9 H128.8 M121.3,325.7 H128.8 M121.3,307.4 H128.8 M121.3,289.1 H133.8 M121.3,270.8 H128.8 M121.3,252.5 H128.8 M121.3,234.3 H128.8 M121.3,216.0 H128.8 M121.3,197.7 H133.8 M121.3,179.4 H128.8 M121.3,161.1 H128.8 M121.3,142.9 H128.8 M121.3,124.6 H128.8 M121.3,106.3 H133.8 M121.3,88.0 H128.8 M121.3,69.7 H128.8 M121.3,51.5 H128.8 M121.3,33.2 H128.8" stroke="#000" stroke-width="4" stroke-linecap="round" fill="none"/>
<text x="110" y="481.1" text-anchor="end" style="font-family:'Liberation Serif','Times New Roman',serif;font-size:35px">0.0</text>
<text x="110" y="389.7" text-anchor="end" style="font-family:'Liberation Serif','Times New Roman',serif;font-size:35px">5.0</text>
<text x="110" y="298.3" text-anchor="end" style="font-family:'Liberation Serif','Times New Roman',serif;font-size:35px">10.0</text>
<text x="110" y="206.9" text-anchor="end" style="font-family:'Liberation Serif','Times New Roman',serif;font-size:35px">15.0</text>
<text x="110" y="115.5" text-anchor="end" style="font-family:'Liberation Serif','Times New Roman',serif;font-size:35px">20.0</text>
<text x="110" y="24.1" text-anchor="end" style="font-family:'Liberation Serif','Times New Roman',serif;font-size:35px">25.0</text>
<text x="152.0" y="530.4" text-anchor="middle" style="font-family:'Liberation Serif','Times New Roman',serif;font-size:35px">0.0</text>
<text x="244.8" y="530.4" text-anchor="middle" style="font-family:'Liberation Serif','Times New Roman',serif;font-size:35px">3.0</text>
<text x="337.6" y="530.4" text-anchor="middle" style="font-family:'Liberation Serif','Times New Roman',serif;font-size:35px">6.0</text>
<text x="430.4" y="530.4" text-anchor="middle" style="font-family:'Liberation Serif','Times New Roman',serif;font-size:35px">9.0</text>
<text x="523.2" y="530.4" text-anchor="middle" style="font-family:'Liberation Serif','Times New Roman',serif;font-size:35px">12.0</text>
<text x="616.0" y="530.4" text-anchor="middle" style="font-family:'Liberation Serif','Times New Roman',serif;font-size:35px">15.0</text>
<text x="708.7" y="530.4" text-anchor="middle" style="font-family:'Liberation Serif','Times New Roman',serif;font-size:35px">18.0</text>
<text x="424.5" y="572.6" text-anchor="middle" style="font-family:'Liberation Serif','Times New Roman',serif;font-size:39px;font-weight:bold">Displacement (mm)</text>
<text transform="translate(27.0,254) rotate(-90)" text-anchor="middle" style="font-family:'Liberation Serif','Times New Roman',serif;font-size:41px;font-weight:bold"><tspan font-style="italic">F</tspan> (kN)</text>
<text x="141.5" y="50.5" style="font-family:'Liberation Serif','Times New Roman',serif;font-size:41px;font-weight:bold">(a)</text>
<path d="M500.5,37.3 H578.8" stroke="#000000" stroke-width="3.6" stroke-linecap="round"/>
<rect x="531.3" y="29.3" width="16.0" height="16.0" fill="#000000"/>
<text x="585.8" y="49.3" style="font-family:'Liberation Serif','Times New Roman',serif;font-size:34px;font-weight:bold">original</text>
<path d="M500.5,80.0 H578.8" stroke="#ff0000" stroke-width="3.6" stroke-linecap="round"/>
<circle cx="539.3" cy="80.0" r="8.8" fill="#ff0000"/>
<text x="585.8" y="92.0" style="font-family:'Liberation Serif','Times New Roman',serif;font-size:34px;font-weight:bold">0.5 mm</text>
<path d="M500.5,122.5 H578.8" stroke="#00ff00" stroke-width="3.6" stroke-linecap="round"/>
<polygon points="539.3,112.0 550.0,130.0 528.6,130.0" fill="#00ff00"/>
<text x="585.8" y="134.5" style="font-family:'Liberation Serif','Times New Roman',serif;font-size:34px;font-weight:bold">1.0 mm</text>
<path d="M500.5,165.3 H578.8" stroke="#0000ff" stroke-width="3.6" stroke-linecap="round"/>
<polygon points="539.3,175.8 550.0,157.8 528.6,157.8" fill="#0000ff"/>
<text x="585.8" y="177.3" style="font-family:'Liberation Serif','Times New Roman',serif;font-size:34px;font-weight:bold">1.5 mm</text>
</g>
<g transform="translate(0,642.3)">
<path d="M152.1,472.1 L158.1,447.7 L179.2,342.6 L186.3,308.9 L199.4,262.0 L210.7,218.8 L219.1,196.3 L227.6,182.2 L237.3,174.7 L244.4,177.5 L252.0,170.0 L261.3,171.9 L268.8,166.3 L280.1,170.0 L287.6,164.4 L295.1,162.5 L302.6,159.7 L310.1,158.8 L318.6,164.4 L330.8,168.1 L340.1,163.5 L351.4,171.0 L360.8,170.0 L372.0,174.7 L379.5,172.8 L388.9,171.9 L400.2,177.5 L414.6,179.4 L427.4,177.4 L436.1,181.7 L441.3,192.2 L448.3,233.9 L453.5,237.4 L457.8,216.5 L463.9,223.5 L468.3,242.6 L473.5,230.4 L477.8,189.6 L483.9,195.7 L487.4,220.0 L491.7,227.0 L497.0,220.9 L503.9,233.9 L510.0,239.1 L517.8,240.9 L523.0,235.7 L529.1,207.8 L533.5,211.3 L541.3,251.3 L549.1,239.1 L557.8,254.8 L561.3,246.1 L568.3,234.8 L571.7,236.5 L577.8,229.6 L583.9,251.3 L591.7,244.3 L597.8,244.3 L603.9,220.0 L608.3,216.5 L617.0,230.4 L622.2,227.0 L627.4,220.9 L632.6,216.5 L636.1,209.6 L639.6,210.4 L641.3,225.2 L647.4,225.2 L657.0,220.9 L660.4,239.1 L667.4,226.1 L670.9,243.5 L676.1,236.5 L683.9,236.5" fill="none" stroke="#000000" stroke-width="4" stroke-linejoin="round" stroke-linecap="round"/>
<rect x="144.1" y="461.8" width="16.0" height="16.0" fill="#000000"/>
<rect x="146.4" y="441.1" width="16.0" height="16.0" fill="#000000"/>
<rect x="175.5" y="328.6" width="16.0" height="16.0" fill="#000000"/>
<rect x="232.7" y="170.0" width="16.0" height="16.0" fill="#000000"/>
<rect x="315.2" y="156.9" width="16.0" height="16.0" fill="#000000"/>
<rect x="411.5" y="170.0" width="16.0" height="16.0" fill="#000000"/>
<rect x="507.1" y="226.4" width="16.0" height="16.0" fill="#000000"/>
<rect x="586.8" y="232.1" width="16.0" height="16.0" fill="#000000"/>
<rect x="641.2" y="215.2" width="16.0" height="16.0" fill="#000000"/>
<rect x="665.6" y="224.6" width="16.0" height="16.0" fill="#000000"/>
<path d="M152.1,469.8 L156.3,449.1 L183.5,356.3 L201.3,297.2 L216.3,250.3 L229.4,218.4 L240.7,216.5 L248.2,209.0 L255.7,201.5 L267.0,208.1 L280.1,203.4 L295.1,203.4 L306.4,206.2 L323.2,203.4 L336.4,209.0 L351.4,209.0 L372.0,213.7 L385.2,211.8 L392.7,216.5 L402.0,235.3 L409.5,246.5 L418.9,248.4 L426.9,257.9 L434.4,269.2 L447.5,271.0 L455.0,276.7 L462.5,291.7 L473.8,289.8 L492.6,305.7 L503.8,309.5 L515.1,314.2 L527.3,316.1 L541.3,328.3 L550.7,324.5 L565.7,335.8 L577.0,332.9 L594.8,338.6 L608.9,343.3 L616.4,341.4 L625.8,350.8 L633.3,345.1 L642.6,353.6 L649.2,350.8 L657.7,355.5 L673.6,358.3" fill="none" stroke="#ff0000" stroke-width="4" stroke-linejoin="round" stroke-linecap="round"/>
<circle cx="152.1" cy="469.8" r="8.8" fill="#ff0000"/>
<circle cx="156.3" cy="449.1" r="8.8" fill="#ff0000"/>
<circle cx="183.5" cy="356.3" r="8.8" fill="#ff0000"/>
<circle cx="240.7" cy="216.5" r="8.8" fill="#ff0000"/>
<circle cx="323.2" cy="203.4" r="8.8" fill="#ff0000"/>
<circle cx="418.9" cy="248.4" r="8.8" fill="#ff0000"/>
<circle cx="515.1" cy="314.2" r="8.8" fill="#ff0000"/>
<circle cx="594.8" cy="338.6" r="8.8" fill="#ff0000"/>
<circle cx="649.2" cy="350.8" r="8.8" fill="#ff0000"/>
<circle cx="673.6" cy="358.3" r="8.8" fill="#ff0000"/>
<path d="M152.1,469.8 L157.2,456.6 L184.4,379.7 L201.3,334.7 L212.6,300.9 L221.9,282.2 L231.3,267.2 L240.7,267.2 L250.1,259.7 L259.5,255.0 L272.6,265.3 L285.7,255.9 L300.7,263.4 L310.1,257.8 L323.2,261.5 L334.5,263.4 L345.8,260.6 L355.1,263.4 L362.6,274.7 L368.3,300.9 L373.9,334.7 L383.3,359.1 L392.7,374.1 L400.2,384.4 L407.7,370.3 L415.2,344.1 L419.9,327.2 L425.0,319.8 L434.4,331.1 L447.5,359.2 L468.2,400.5 L473.8,394.9 L485.0,355.5 L492.6,348.9 L498.2,351.7 L505.7,364.8 L515.1,381.7 L522.6,402.4 L528.2,411.7 L537.6,391.1 L547.0,366.7 L562.0,372.3 L567.6,383.6 L577.0,400.5 L584.5,379.9 L594.8,359.2 L603.2,370.5 L614.5,388.3 L625.8,353.6 L628.6,355.5 L635.1,376.1 L642.6,383.6 L649.2,355.5 L657.7,383.6 L662.3,374.2 L669.8,381.7 L673.6,359.2 L678.3,376.1" fill="none" stroke="#00ff00" stroke-width="4" stroke-linejoin="round" stroke-linecap="round"/>
<polygon points="152.1,459.3 162.8,477.3 141.4,477.3" fill="#00ff00"/>
<polygon points="157.2,446.1 167.9,464.1 146.5,464.1" fill="#00ff00"/>
<polygon points="184.4,369.2 195.1,387.2 173.7,387.2" fill="#00ff00"/>
<polygon points="240.7,256.7 251.4,274.7 230.0,274.7" fill="#00ff00"/>
<polygon points="323.2,251.0 333.9,269.0 312.5,269.0" fill="#00ff00"/>
<polygon points="419.9,316.7 430.6,334.7 409.2,334.7" fill="#00ff00"/>
<polygon points="515.1,371.2 525.8,389.2 504.4,389.2" fill="#00ff00"/>
<polygon points="594.8,348.7 605.5,366.7 584.1,366.7" fill="#00ff00"/>
<polygon points="649.2,345.0 659.9,363.0 638.5,363.0" fill="#00ff00"/>
<polygon points="673.6,348.7 684.3,366.7 662.9,366.7" fill="#00ff00"/>
<path d="M152.1,469.8 L158.1,456.6 L173.2,430.4 L184.4,411.6 L197.5,387.2 L208.8,368.5 L216.3,355.3 L223.8,341.3 L231.3,346.0 L236.9,362.8 L241.6,396.6 L244.4,422.9 L250.1,439.8 L257.6,445.4 L263.2,447.3 L270.7,454.8 L276.3,445.4 L282.0,415.4 L287.6,392.9 L293.2,385.4 L302.6,385.4 L310.1,398.5 L317.6,411.6 L325.1,426.6 L332.6,443.5 L338.3,454.8 L345.8,451.0 L353.3,434.1 L360.8,419.1 L370.2,400.4 L377.7,391.0 L383.3,392.9 L390.8,407.9 L398.3,422.9 L404.9,429.4 L411.4,425.7 L418.9,421.0 L428.8,406.1 L436.3,398.6 L447.5,396.7 L453.2,400.5 L462.5,415.5 L470.0,423.0 L479.4,413.6 L488.8,416.4 L496.3,414.6 L503.8,406.1 L515.1,406.1 L522.6,408.0 L528.2,417.4 L537.6,424.9 L548.8,412.7 L558.2,415.5 L569.5,404.2 L578.9,409.9 L586.4,421.1 L594.8,423.0 L605.1,408.9 L614.5,411.7 L625.8,417.4 L635.1,421.1 L642.6,408.0 L649.2,415.5 L657.7,423.0 L661.4,413.6 L670.8,409.9 L676.4,419.2" fill="none" stroke="#0000ff" stroke-width="4" stroke-linejoin="round" stroke-linecap="round"/>
<polygon points="152.1,480.3 162.8,462.3 141.4,462.3" fill="#0000ff"/>
<polygon points="158.1,467.1 168.8,449.1 147.4,449.1" fill="#0000ff"/>
<polygon points="184.4,422.1 195.1,404.1 173.7,404.1" fill="#0000ff"/>
<polygon points="241.6,407.1 252.3,389.1 230.9,389.1" fill="#0000ff"/>
<polygon points="323.2,437.1 333.9,419.1 312.5,419.1" fill="#0000ff"/>
<polygon points="418.9,431.5 429.6,413.5 408.2,413.5" fill="#0000ff"/>
<polygon points="515.1,418.5 525.8,400.5 504.4,400.5" fill="#0000ff"/>
<polygon points="594.8,433.5 605.5,415.5 584.1,415.5" fill="#0000ff"/>
<polygon points="649.2,426.0 659.9,408.0 638.5,408.0" fill="#0000ff"/>
<polygon points="673.6,422.2 684.3,404.2 662.9,404.2" fill="#0000ff"/>
<rect x="121.3" y="15.3" width="587.0" height="475.0" fill="none" stroke="#000" stroke-width="4"/>
<path d="M133.4,490.3 V483.8 M152.0,490.3 V478.3 M170.6,490.3 V483.8 M189.1,490.3 V483.8 M207.7,490.3 V483.8 M226.2,490.3 V483.8 M244.8,490.3 V478.3 M263.3,490.3 V483.8 M281.9,490.3 V483.8 M300.5,490.3 V483.8 M319.0,490.3 V483.8 M337.6,490.3 V478.3 M356.1,490.3 V483.8 M374.7,490.3 V483.8 M393.3,490.3 V483.8 M411.8,490.3 V483.8 M430.4,490.3 V478.3 M448.9,490.3 V483.8 M467.5,490.3 V483.8 M486.0,490.3 V483.8 M504.6,490.3 V483.8 M523.2,490.3 V478.3 M541.7,490.3 V483.8 M560.3,490.3 V483.8 M578.8,490.3 V483.8 M597.4,490.3 V483.8 M616.0,490.3 V478.3 M634.5,490.3 V483.8 M653.1,490.3 V483.8 M671.6,490.3 V483.8 M690.2,490.3 V483.8 M121.3,471.9 H133.8 M121.3,453.6 H128.8 M121.3,435.3 H128.8 M121.3,417.1 H128.8 M121.3,398.8 H128.8 M121.3,380.5 H133.8 M121.3,362.2 H128.8 M121.3,343.9 H128.8 M121.3,325.7 H128.8 M121.3,307.4 H128.8 M121.3,289.1 H133.8 M121.3,270.8 H128.8 M121.3,252.5 H128.8 M121.3,234.3 H128.8 M121.3,216.0 H128.8 M121.3,197.7 H133.8 M121.3,179.4 H128.8 M121.3,161.1 H128.8 M121.3,142.9 H128.8 M121.3,124.6 H128.8 M121.3,106.3 H133.8 M121.3,88.0 H128.8 M121.3,69.7 H128.8 M121.3,51.5 H128.8 M121.3,33.2 H128.8" stroke="#000" stroke-width="4" stroke-linecap="round" fill="none"/>
<text x="110" y="481.1" text-anchor="end" style="font-family:'Liberation Serif','Times New Roman',serif;font-size:35px">0.0</text>
<text x="110" y="389.7" text-anchor="end" style="font-family:'Liberation Serif','Times New Roman',serif;font-size:35px">5.0</text>
<text x="110" y="298.3" text-anchor="end" style="font-family:'Liberation Serif','Times New Roman',serif;font-size:35px">10.0</text>
<text x="110" y="206.9" text-anchor="end" style="font-family:'Liberation Serif','Times New Roman',serif;font-size:35px">15.0</text>
<text x="110" y="115.5" text-anchor="end" style="font-family:'Liberation Serif','Times New Roman',serif;font-size:35px">20.0</text>
<text x="110" y="24.1" text-anchor="end" style="font-family:'Liberation Serif','Times New Roman',serif;font-size:35px">25.0</text>
<text x="152.0" y="530.4" text-anchor="middle" style="font-family:'Liberation Serif','Times New Roman',serif;font-size:35px">0.0</text>
<text x="244.8" y="530.4" text-anchor="middle" style="font-family:'Liberation Serif','Times New Roman',serif;font-size:35px">3.0</text>
<text x="337.6" y="530.4" text-anchor="middle" style="font-family:'Liberation Serif','Times New Roman',serif;font-size:35px">6.0</text>
<text x="430.4" y="530.4" text-anchor="middle" style="font-family:'Liberation Serif','Times New Roman',serif;font-size:35px">9.0</text>
<text x="523.2" y="530.4" text-anchor="middle" style="font-family:'Liberation Serif','Times New Roman',serif;font-size:35px">12.0</text>
<text x="616.0" y="530.4" text-anchor="middle" style="font-family:'Liberation Serif','Times New Roman',serif;font-size:35px">15.0</text>
<text x="708.7" y="530.4" text-anchor="middle" style="font-family:'Liberation Serif','Times New Roman',serif;font-size:35px">18.0</text>
<text x="424.5" y="572.6" text-anchor="middle" style="font-family:'Liberation Serif','Times New Roman',serif;font-size:39px;font-weight:bold">Displacement (mm)</text>
<text transform="translate(27.0,254) rotate(-90)" text-anchor="middle" style="font-family:'Liberation Serif','Times New Roman',serif;font-size:41px;font-weight:bold"><tspan font-style="italic">F</tspan> (kN)</text>
<text x="141.5" y="50.5" style="font-family:'Liberation Serif','Times New Roman',serif;font-size:41px;font-weight:bold">(b)</text>
<path d="M500.5,37.3 H578.8" stroke="#000000" stroke-width="3.6" stroke-linecap="round"/>
<rect x="531.3" y="29.3" width="16.0" height="16.0" fill="#000000"/>
<text x="585.8" y="49.3" style="font-family:'Liberation Serif','Times New Roman',serif;font-size:34px;font-weight:bold">original</text>
<path d="M500.5,80.0 H578.8" stroke="#ff0000" stroke-width="3.6" stroke-linecap="round"/>
<circle cx="539.3" cy="80.0" r="8.8" fill="#ff0000"/>
<text x="585.8" y="92.0" style="font-family:'Liberation Serif','Times New Roman',serif;font-size:34px;font-weight:bold">0.5 mm</text>
<path d="M500.5,122.5 H578.8" stroke="#00ff00" stroke-width="3.6" stroke-linecap="round"/>
<polygon points="539.3,112.0 550.0,130.0 528.6,130.0" fill="#00ff00"/>
<text x="585.8" y="134.5" style="font-family:'Liberation Serif','Times New Roman',serif;font-size:34px;font-weight:bold">1.0 mm</text>
<path d="M500.5,165.3 H578.8" stroke="#0000ff" stroke-width="3.6" stroke-linecap="round"/>
<polygon points="539.3,175.8 550.0,157.8 528.6,157.8" fill="#0000ff"/>
<text x="585.8" y="177.3" style="font-family:'Liberation Serif','Times New Roman',serif;font-size:34px;font-weight:bold">1.5 mm</text>
</g>
<g transform="translate(0,1284.5)">
<path d="M152.1,472.1 L158.1,447.7 L179.2,342.6 L186.3,308.9 L199.4,262.0 L210.7,218.8 L219.1,196.3 L227.6,182.2 L237.3,174.7 L244.4,177.5 L252.0,170.0 L261.3,171.9 L268.8,166.3 L280.1,170.0 L287.6,164.4 L295.1,162.5 L302.6,159.7 L310.1,158.8 L318.6,164.4 L330.8,168.1 L340.1,163.5 L351.4,171.0 L360.8,170.0 L372.0,174.7 L379.5,172.8 L388.9,171.9 L400.2,177.5 L414.6,179.4 L427.4,177.4 L436.1,181.7 L441.3,192.2 L448.3,233.9 L453.5,237.4 L457.8,216.5 L463.9,223.5 L468.3,242.6 L473.5,230.4 L477.8,189.6 L483.9,195.7 L487.4,220.0 L491.7,227.0 L497.0,220.9 L503.9,233.9 L510.0,239.1 L517.8,240.9 L523.0,235.7 L529.1,207.8 L533.5,211.3 L541.3,251.3 L549.1,239.1 L557.8,254.8 L561.3,246.1 L568.3,234.8 L571.7,236.5 L577.8,229.6 L583.9,251.3 L591.7,244.3 L597.8,244.3 L603.9,220.0 L608.3,216.5 L617.0,230.4 L622.2,227.0 L627.4,220.9 L632.6,216.5 L636.1,209.6 L639.6,210.4 L641.3,225.2 L647.4,225.2 L657.0,220.9 L660.4,239.1 L667.4,226.1 L670.9,243.5 L676.1,236.5 L683.9,236.5" fill="none" stroke="#000000" stroke-width="4" stroke-linejoin="round" stroke-linecap="round"/>
<rect x="144.1" y="459.6" width="16.0" height="16.0" fill="#000000"/>
<rect x="146.4" y="441.8" width="16.0" height="16.0" fill="#000000"/>
<rect x="173.6" y="335.8" width="16.0" height="16.0" fill="#000000"/>
<rect x="229.3" y="166.0" width="16.0" height="16.0" fill="#000000"/>
<rect x="310.6" y="156.6" width="16.0" height="16.0" fill="#000000"/>
<rect x="406.6" y="170.7" width="16.0" height="16.0" fill="#000000"/>
<rect x="502.4" y="231.6" width="16.0" height="16.0" fill="#000000"/>
<rect x="583.1" y="238.2" width="16.0" height="16.0" fill="#000000"/>
<rect x="639.3" y="217.6" width="16.0" height="16.0" fill="#000000"/>
<rect x="667.5" y="226.9" width="16.0" height="16.0" fill="#000000"/>
<path d="M152.1,467.6 L154.4,456.3 L181.6,373.8 L199.4,315.6 L212.6,274.3 L223.8,251.8 L237.3,236.8 L248.2,238.7 L265.1,235.9 L280.1,237.8 L291.4,233.1 L306.4,234.9 L318.6,239.6 L328.9,244.3 L342.0,252.8 L347.6,250.9 L362.6,260.3 L370.2,260.3 L383.3,269.6 L390.8,272.5 L402.0,280.9 L414.6,282.8 L432.5,293.1 L451.3,310.9 L466.3,311.9 L481.3,310.9 L503.8,322.2 L510.4,324.1 L522.6,326.9 L535.7,328.7 L547.0,336.3 L565.7,342.8 L578.9,343.8 L591.1,348.4 L605.1,350.3 L612.6,342.8 L623.9,340.0 L629.5,340.9 L638.9,337.2 L647.3,337.2 L661.4,332.5 L676.4,334.4" fill="none" stroke="#ff0000" stroke-width="4" stroke-linejoin="round" stroke-linecap="round"/>
<circle cx="152.1" cy="467.6" r="8.8" fill="#ff0000"/>
<circle cx="154.4" cy="456.3" r="8.8" fill="#ff0000"/>
<circle cx="181.6" cy="373.8" r="8.8" fill="#ff0000"/>
<circle cx="237.3" cy="236.8" r="8.8" fill="#ff0000"/>
<circle cx="318.6" cy="239.6" r="8.8" fill="#ff0000"/>
<circle cx="414.6" cy="282.8" r="8.8" fill="#ff0000"/>
<circle cx="510.4" cy="324.1" r="8.8" fill="#ff0000"/>
<circle cx="591.1" cy="348.4" r="8.8" fill="#ff0000"/>
<circle cx="647.3" cy="337.2" r="8.8" fill="#ff0000"/>
<circle cx="676.4" cy="334.4" r="8.8" fill="#ff0000"/>
<path d="M152.1,467.6 L156.3,456.3 L181.6,400.0 L201.3,356.9 L214.4,326.9 L227.6,310.0 L237.3,299.7 L250.1,306.2 L261.3,312.8 L272.6,323.1 L280.1,336.3 L289.5,366.3 L298.9,383.2 L309.2,396.3 L318.6,386.9 L328.9,371.9 L336.4,367.2 L347.6,375.7 L357.0,392.5 L366.4,407.5 L375.8,415.0 L383.3,409.4 L392.7,392.5 L400.2,390.7 L414.6,395.3 L422.7,401.9 L428.8,406.6 L434.4,404.7 L449.4,385.0 L470.0,390.7 L490.7,401.0 L503.8,387.8 L510.4,386.9 L528.2,392.5 L541.3,396.3 L554.5,386.0 L567.6,394.4 L578.9,393.5 L591.1,397.2 L599.5,394.4 L608.9,398.2 L620.1,398.2 L625.8,402.9 L635.1,394.4 L647.3,397.2 L657.7,396.3 L663.3,401.9 L676.4,400.0" fill="none" stroke="#00ff00" stroke-width="4" stroke-linejoin="round" stroke-linecap="round"/>
<polygon points="152.1,457.1 162.8,475.1 141.4,475.1" fill="#00ff00"/>
<polygon points="156.3,445.8 167.0,463.8 145.6,463.8" fill="#00ff00"/>
<polygon points="181.6,388.6 192.3,406.6 170.9,406.6" fill="#00ff00"/>
<polygon points="237.3,289.2 248.0,307.2 226.6,307.2" fill="#00ff00"/>
<polygon points="318.6,376.4 329.3,394.4 307.9,394.4" fill="#00ff00"/>
<polygon points="414.6,384.8 425.3,402.8 403.9,402.8" fill="#00ff00"/>
<polygon points="510.4,376.4 521.1,394.4 499.7,394.4" fill="#00ff00"/>
<polygon points="591.1,384.8 601.8,402.8 580.4,402.8" fill="#00ff00"/>
<polygon points="647.3,384.8 658.0,402.8 636.6,402.8" fill="#00ff00"/>
<polygon points="676.4,387.7 687.1,405.7 665.7,405.7" fill="#00ff00"/>
<path d="M152.1,467.6 L158.1,458.2 L167.5,446.9 L181.6,428.2 L191.9,415.0 L201.3,403.8 L208.8,395.3 L214.4,405.7 L220.1,422.6 L229.4,431.9 L237.3,433.8 L242.6,430.1 L252.0,427.2 L263.2,433.8 L272.6,446.9 L280.1,454.4 L285.7,462.0 L293.2,459.1 L300.7,455.4 L310.1,443.2 L318.6,428.2 L325.1,429.1 L330.8,431.9 L338.3,441.3 L345.8,456.3 L351.4,455.4 L357.0,460.1 L364.5,443.2 L373.9,446.9 L381.4,430.1 L385.2,426.3 L392.7,430.1 L400.2,439.4 L407.7,442.3 L414.6,452.6 L422.7,446.9 L428.8,443.2 L438.1,444.1 L447.5,438.5 L458.8,433.8 L468.2,434.7 L475.7,441.3 L483.2,450.7 L492.6,450.7 L503.8,443.2 L510.4,440.4 L528.2,439.4 L537.6,445.1 L548.8,454.4 L565.7,440.4 L578.9,444.1 L591.1,447.9 L605.1,450.7 L612.6,442.3 L618.3,441.3 L631.4,451.6 L640.8,447.9 L648.3,446.9 L657.7,450.7 L665.2,446.9 L676.4,447.9" fill="none" stroke="#0000ff" stroke-width="4" stroke-linejoin="round" stroke-linecap="round"/>
<polygon points="152.1,478.1 162.8,460.1 141.4,460.1" fill="#0000ff"/>
<polygon points="158.1,468.7 168.8,450.7 147.4,450.7" fill="#0000ff"/>
<polygon points="181.6,438.7 192.3,420.7 170.9,420.7" fill="#0000ff"/>
<polygon points="237.3,444.3 248.0,426.3 226.6,426.3" fill="#0000ff"/>
<polygon points="318.6,435.9 329.3,417.9 307.9,417.9" fill="#0000ff"/>
<polygon points="414.6,463.1 425.3,445.1 403.9,445.1" fill="#0000ff"/>
<polygon points="510.4,454.6 521.1,436.6 499.7,436.6" fill="#0000ff"/>
<polygon points="591.1,461.2 601.8,443.2 580.4,443.2" fill="#0000ff"/>
<polygon points="647.3,459.3 658.0,441.3 636.6,441.3" fill="#0000ff"/>
<polygon points="676.4,459.3 687.1,441.3 665.7,441.3" fill="#0000ff"/>
<rect x="121.3" y="15.3" width="587.0" height="475.0" fill="none" stroke="#000" stroke-width="4"/>
<path d="M133.4,490.3 V483.8 M152.0,490.3 V478.3 M170.6,490.3 V483.8 M189.1,490.3 V483.8 M207.7,490.3 V483.8 M226.2,490.3 V483.8 M244.8,490.3 V478.3 M263.3,490.3 V483.8 M281.9,490.3 V483.8 M300.5,490.3 V483.8 M319.0,490.3 V483.8 M337.6,490.3 V478.3 M356.1,490.3 V483.8 M374.7,490.3 V483.8 M393.3,490.3 V483.8 M411.8,490.3 V483.8 M430.4,490.3 V478.3 M448.9,490.3 V483.8 M467.5,490.3 V483.8 M486.0,490.3 V483.8 M504.6,490.3 V483.8 M523.2,490.3 V478.3 M541.7,490.3 V483.8 M560.3,490.3 V483.8 M578.8,490.3 V483.8 M597.4,490.3 V483.8 M616.0,490.3 V478.3 M634.5,490.3 V483.8 M653.1,490.3 V483.8 M671.6,490.3 V483.8 M690.2,490.3 V483.8 M121.3,471.9 H133.8 M121.3,453.6 H128.8 M121.3,435.3 H128.8 M121.3,417.1 H128.8 M121.3,398.8 H128.8 M121.3,380.5 H133.8 M121.3,362.2 H128.8 M121.3,343.9 H128.8 M121.3,325.7 H128.8 M121.3,307.4 H128.8 M121.3,289.1 H133.8 M121.3,270.8 H128.8 M121.3,252.5 H128.8 M121.3,234.3 H128.8 M121.3,216.0 H128.8 M121.3,197.7 H133.8 M121.3,179.4 H128.8 M121.3,161.1 H128.8 M121.3,142.9 H128.8 M121.3,124.6 H128.8 M121.3,106.3 H133.8 M121.3,88.0 H128.8 M121.3,69.7 H128.8 M121.3,51.5 H128.8 M121.3,33.2 H128.8" stroke="#000" stroke-width="4" stroke-linecap="round" fill="none"/>
<text x="110" y="481.1" text-anchor="end" style="font-family:'Liberation Serif','Times New Roman',serif;font-size:35px">0.0</text>
<text x="110" y="389.7" text-anchor="end" style="font-family:'Liberation Serif','Times New Roman',serif;font-size:35px">5.0</text>
<text x="110" y="298.3" text-anchor="end" style="font-family:'Liberation Serif','Times New Roman',serif;font-size:35px">10.0</text>
<text x="110" y="206.9" text-anchor="end" style="font-family:'Liberation Serif','Times New Roman',serif;font-size:35px">15.0</text>
<text x="110" y="115.5" text-anchor="end" style="font-family:'Liberation Serif','Times New Roman',serif;font-size:35px">20.0</text>
<text x="110" y="24.1" text-anchor="end" style="font-family:'Liberation Serif','Times New Roman',serif;font-size:35px">25.0</text>
<text x="152.0" y="530.4" text-anchor="middle" style="font-family:'Liberation Serif','Times New Roman',serif;font-size:35px">0.0</text>
<text x="244.8" y="530.4" text-anchor="middle" style="font-family:'Liberation Serif','Times New Roman',serif;font-size:35px">3.0</text>
<text x="337.6" y="530.4" text-anchor="middle" style="font-family:'Liberation Serif','Times New Roman',serif;font-size:35px">6.0</text>
<text x="430.4" y="530.4" text-anchor="middle" style="font-family:'Liberation Serif','Times New Roman',serif;font-size:35px">9.0</text>
<text x="523.2" y="530.4" text-anchor="middle" style="font-family:'Liberation Serif','Times New Roman',serif;font-size:35px">12.0</text>
<text x="616.0" y="530.4" text-anchor="middle" style="font-family:'Liberation Serif','Times New Roman',serif;font-size:35px">15.0</text>
<text x="708.7" y="530.4" text-anchor="middle" style="font-family:'Liberation Serif','Times New Roman',serif;font-size:35px">18.0</text>
<text x="424.5" y="572.6" text-anchor="middle" style="font-family:'Liberation Serif','Times New Roman',serif;font-size:39px;font-weight:bold">Displacement (mm)</text>
<text transform="translate(27.0,254) rotate(-90)" text-anchor="middle" style="font-family:'Liberation Serif','Times New Roman',serif;font-size:41px;font-weight:bold"><tspan font-style="italic">F</tspan> (kN)</text>
<text x="141.5" y="50.5" style="font-family:'Liberation Serif','Times New Roman',serif;font-size:41px;font-weight:bold">(c)</text>
<path d="M500.5,37.3 H578.8" stroke="#000000" stroke-width="3.6" stroke-linecap="round"/>
<rect x="531.3" y="29.3" width="16.0" height="16.0" fill="#000000"/>
<text x="585.8" y="49.3" style="font-family:'Liberation Serif','Times New Roman',serif;font-size:34px;font-weight:bold">original</text>
<path d="M500.5,80.0 H578.8" stroke="#ff0000" stroke-width="3.6" stroke-linecap="round"/>
<circle cx="539.3" cy="80.0" r="8.8" fill="#ff0000"/>
<text x="585.8" y="92.0" style="font-family:'Liberation Serif','Times New Roman',serif;font-size:34px;font-weight:bold">0.5 mm</text>
<path d="M500.5,122.5 H578.8" stroke="#00ff00" stroke-width="3.6" stroke-linecap="round"/>
<polygon points="539.3,112.0 550.0,130.0 528.6,130.0" fill="#00ff00"/>
<text x="585.8" y="134.5" style="font-family:'Liberation Serif','Times New Roman',serif;font-size:34px;font-weight:bold">1.0 mm</text>
<path d="M500.5,165.3 H578.8" stroke="#0000ff" stroke-width="3.6" stroke-linecap="round"/>
<polygon points="539.3,175.8 550.0,157.8 528.6,157.8" fill="#0000ff"/>
<text x="585.8" y="177.3" style="font-family:'Liberation Serif','Times New Roman',serif;font-size:34px;font-weight:bold">1.5 mm</text>
</g>
</svg>
</body></html>
